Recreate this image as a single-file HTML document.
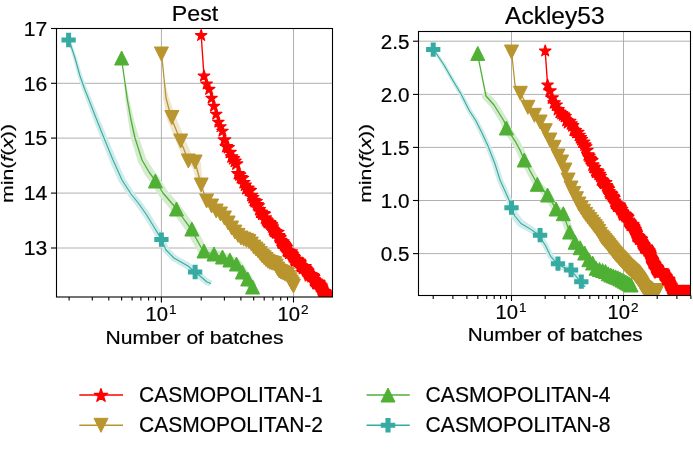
<!DOCTYPE html>
<html><head><meta charset="utf-8"><style>html,body{margin:0;padding:0;background:#fff;}svg{display:block;will-change:transform;}</style></head>
<body><svg width="693" height="450" viewBox="0 0 693 450"><rect x="0" y="0" width="693" height="450" fill="#fff"/><defs><clipPath id="cl"><rect x="56.5" y="28.5" width="276.0" height="268.5"/></clipPath><clipPath id="cr"><rect x="418.5" y="31.5" width="272.0" height="264.0"/></clipPath></defs><line x1="161.4" y1="28.5" x2="161.4" y2="297.0" stroke="#b0b0b0" stroke-width="1"/><line x1="293.5" y1="28.5" x2="293.5" y2="297.0" stroke="#b0b0b0" stroke-width="1"/><line x1="56.5" y1="28.5" x2="332.5" y2="28.5" stroke="#b0b0b0" stroke-width="1"/><line x1="56.5" y1="83.3" x2="332.5" y2="83.3" stroke="#b0b0b0" stroke-width="1"/><line x1="56.5" y1="138.1" x2="332.5" y2="138.1" stroke="#b0b0b0" stroke-width="1"/><line x1="56.5" y1="193.1" x2="332.5" y2="193.1" stroke="#b0b0b0" stroke-width="1"/><line x1="56.5" y1="248.0" x2="332.5" y2="248.0" stroke="#b0b0b0" stroke-width="1"/><line x1="511.5" y1="31.5" x2="511.5" y2="295.5" stroke="#b0b0b0" stroke-width="1"/><line x1="623.5" y1="31.5" x2="623.5" y2="295.5" stroke="#b0b0b0" stroke-width="1"/><line x1="418.5" y1="41.2" x2="690.5" y2="41.2" stroke="#b0b0b0" stroke-width="1"/><line x1="418.5" y1="94.4" x2="690.5" y2="94.4" stroke="#b0b0b0" stroke-width="1"/><line x1="418.5" y1="147.4" x2="690.5" y2="147.4" stroke="#b0b0b0" stroke-width="1"/><line x1="418.5" y1="200.5" x2="690.5" y2="200.5" stroke="#b0b0b0" stroke-width="1"/><line x1="418.5" y1="253.6" x2="690.5" y2="253.6" stroke="#b0b0b0" stroke-width="1"/><g clip-path="url(#cl)"><path d="M67.6 40.5 L73.1 58.6 L77.9 76.7 L82.7 90.9 L86.4 101.0 L93.2 119.1 L101.0 139.2 L109.8 161.4 L118.9 181.7 L128.2 196.0 L136.2 206.1 L143.8 216.9 L151.0 228.8 L158.5 241.2 L163.1 252.0 L171.9 260.8 L186.0 268.9 L192.8 274.7 L197.8 278.7 L205.2 285.0 L209.9 286.3 L212.1 280.7 L208.8 279.0 L202.2 273.3 L197.2 269.3 L190.0 263.1 L176.1 255.2 L168.9 248.0 L164.7 238.0 L157.0 225.2 L149.6 213.1 L141.8 201.9 L133.8 192.0 L125.1 178.3 L116.2 158.6 L107.0 136.8 L98.8 116.9 L91.6 99.0 L87.3 89.1 L82.1 75.3 L76.9 57.4 L70.4 39.5Z" fill="#d0ecea"/><path d="M69.0 40.0 L75.0 58.0 L80.0 76.0 L85.0 90.0 L89.0 100.0 L96.0 118.0 L104.0 138.0 L113.0 160.0 L122.0 180.0 L131.0 194.0 L139.0 204.0 L146.7 215.0 L154.0 227.0 L161.6 239.6 L166.0 250.0 L174.0 258.0 L188.0 266.0 L195.0 272.0 L200.0 276.0 L207.0 282.0 L211.0 283.5" fill="none" stroke="#35aba2" stroke-width="1.1" stroke-linejoin="round"/><path d="M66.10 32.85 L71.10 32.85 L71.10 37.50 L75.75 37.50 L75.75 42.50 L71.10 42.50 L71.10 47.15 L66.10 47.15 L66.10 42.50 L61.45 42.50 L61.45 37.50 L66.10 37.50Z M158.90 232.45 L163.90 232.45 L163.90 237.10 L168.55 237.10 L168.55 242.10 L163.90 242.10 L163.90 246.75 L158.90 246.75 L158.90 242.10 L154.25 242.10 L154.25 237.10 L158.90 237.10Z M192.62 264.85 L197.62 264.85 L197.62 269.50 L202.27 269.50 L202.27 274.50 L197.62 274.50 L197.62 279.15 L192.62 279.15 L192.62 274.50 L187.97 274.50 L187.97 269.50 L192.62 269.50Z" fill="#35aba2"/><path d="M124.0 83.1 L125.4 100.3 L128.1 120.6 L131.1 139.0 L137.9 161.8 L144.8 174.7 L151.5 183.8 L159.0 195.9 L172.7 212.1 L178.9 220.9 L186.8 231.7 L192.6 242.4 L199.9 254.9 L211.5 258.8 L220.2 261.7 L226.9 264.5 L233.7 267.7 L238.2 274.9 L243.6 281.8 L248.8 289.4 L256.4 284.6 L251.8 276.2 L246.4 269.1 L240.3 260.3 L231.1 255.5 L223.8 252.3 L214.5 249.2 L206.1 247.1 L201.4 237.6 L195.2 226.3 L187.1 215.1 L180.7 205.9 L167.0 190.1 L159.7 178.2 L153.2 169.3 L146.1 158.2 L138.9 137.0 L133.9 119.4 L129.4 99.7 L126.0 82.9Z" fill="#d5ebd0"/><path d="M121.4 58.0 L125.0 83.0 L127.4 100.0 L131.0 120.0 L135.0 138.0 L142.0 160.0 L149.0 172.0 L155.6 181.0 L163.0 193.0 L176.7 209.0 L183.0 218.0 L191.0 229.0 L197.0 240.0 L203.0 251.0 L213.0 254.0 L222.0 257.0 L229.0 260.0 L237.0 264.0 L242.3 272.0 L247.7 279.0 L252.6 287.0" fill="none" stroke="#4fb034" stroke-width="1.3" stroke-linejoin="round"/><path d="M121.63 51.00 L114.63 65.00 L128.63 65.00Z M155.36 174.00 L148.36 188.00 L162.36 188.00Z M176.45 202.00 L169.45 216.00 L183.45 216.00Z M191.84 222.00 L184.84 236.00 L198.84 236.00Z M203.97 244.00 L196.97 258.00 L210.97 258.00Z M213.97 247.00 L206.97 261.00 L220.97 261.00Z M222.48 250.00 L215.48 264.00 L229.48 264.00Z M229.90 253.00 L222.90 267.00 L236.90 267.00Z M236.46 257.00 L229.46 271.00 L243.46 271.00Z M242.35 265.00 L235.35 279.00 L249.35 279.00Z M247.69 272.00 L240.69 286.00 L254.69 286.00Z M252.57 280.00 L245.57 294.00 L259.57 294.00Z" fill="#4fb034" stroke="#4fb034" stroke-width="1" stroke-linejoin="miter"/><path d="M163.5 80.1 L163.1 98.6 L167.0 119.4 L176.6 142.7 L184.0 161.0 L192.4 167.6 L198.3 185.4 L202.3 184.6 L201.0 162.4 L192.0 155.0 L185.0 139.3 L175.6 116.6 L168.9 97.4 L164.5 79.9Z" fill="#efe6d0"/><path d="M161.6 54.0 L166.0 98.0 L171.3 118.0 L180.7 141.0 L188.4 161.0 L195.1 162.0 L201.2 185.0 L206.6 201.0 L211.6 206.0 L216.2 211.0 L220.5 214.0 L224.4 218.0 L228.1 223.0 L231.6 228.0 L234.9 232.1 L238.0 235.4 L240.9 238.0 L243.7 239.2 L246.4 240.4 L249.0 241.5 L251.4 244.0 L253.7 247.0 L256.0 249.1 L258.1 251.0 L260.2 253.5 L262.2 256.0 L264.2 257.8 L266.1 259.5 L267.9 261.2 L269.7 262.3 L271.4 262.8 L273.0 263.3 L274.7 263.8 L276.2 266.0 L277.8 269.0 L279.2 271.0 L280.7 271.7 L282.1 272.4 L283.5 273.1 L284.8 273.7 L286.2 274.4 L287.5 275.0 L288.7 277.4 L290.0 279.8 L291.2 282.0 L292.3 284.0 L293.5 286.0" fill="none" stroke="#b9952f" stroke-width="1.3" stroke-linejoin="round"/><path d="M161.40 61.00 L154.40 47.00 L168.40 47.00Z M171.86 124.50 L164.86 110.50 L178.86 110.50Z M180.70 148.00 L173.70 134.00 L187.70 134.00Z M188.36 168.00 L181.36 154.00 L195.36 154.00Z M195.12 169.00 L188.12 155.00 L202.12 155.00Z M201.17 192.00 L194.17 178.00 L208.17 178.00Z M206.63 208.00 L199.63 194.00 L213.63 194.00Z M211.63 213.00 L204.63 199.00 L218.63 199.00Z M216.22 218.00 L209.22 204.00 L223.22 204.00Z M220.47 221.00 L213.47 207.00 L227.47 207.00Z M224.43 225.00 L217.43 211.00 L231.43 211.00Z M228.13 230.00 L221.13 216.00 L235.13 216.00Z M231.61 235.00 L224.61 221.00 L238.61 221.00Z M234.89 239.06 L227.89 225.06 L241.89 225.06Z M237.99 242.37 L230.99 228.37 L244.99 228.37Z M240.93 245.00 L233.93 231.00 L247.93 231.00Z M243.73 246.21 L236.73 232.21 L250.73 232.21Z M246.40 247.36 L239.40 233.36 L253.40 233.36Z M248.95 248.47 L241.95 234.47 L255.95 234.47Z M251.39 251.02 L244.39 237.02 L258.39 237.02Z M253.73 254.04 L246.73 240.04 L260.73 240.04Z M255.98 256.06 L248.98 242.06 L262.98 242.06Z M258.15 258.00 L251.15 244.00 L265.15 244.00Z M260.24 260.54 L253.24 246.54 L267.24 246.54Z M262.25 263.00 L255.25 249.00 L269.25 249.00Z M264.19 264.79 L257.19 250.79 L271.19 250.79Z M266.07 266.51 L259.07 252.51 L273.07 252.51Z M267.90 268.18 L260.90 254.18 L274.90 254.18Z M269.66 269.26 L262.66 255.26 L276.66 255.26Z M271.37 269.78 L264.37 255.78 L278.37 255.78Z M273.04 270.28 L266.04 256.28 L280.04 256.28Z M274.65 270.76 L267.65 256.76 L281.65 256.76Z M276.23 273.01 L269.23 259.01 L283.23 259.01Z M277.76 276.01 L270.76 262.01 L284.76 262.01Z M279.25 278.00 L272.25 264.00 L286.25 264.00Z M280.70 278.71 L273.70 264.71 L287.70 264.71Z M282.11 279.40 L275.11 265.40 L289.11 265.40Z M283.50 280.07 L276.50 266.07 L290.50 266.07Z M284.85 280.73 L277.85 266.73 L291.85 266.73Z M286.17 281.37 L279.17 267.37 L293.17 267.37Z M287.46 282.00 L280.46 268.00 L294.46 268.00Z M288.72 284.44 L281.72 270.44 L295.72 270.44Z M289.95 286.83 L282.95 272.83 L296.95 272.83Z M291.16 289.02 L284.16 275.02 L298.16 275.02Z M292.34 291.03 L285.34 277.03 L299.34 277.03Z M293.50 293.00 L286.50 279.00 L300.50 279.00Z" fill="#b9952f" stroke="#b9952f" stroke-width="1" stroke-linejoin="miter"/><path d="M201.2 35.5 L204.0 76.0 L206.6 84.0 L209.2 89.3 L211.6 98.2 L214.0 106.2 L216.2 114.2 L218.4 122.2 L220.5 126.7 L222.5 131.1 L224.4 140.0 L226.3 146.6 L228.1 147.6 L229.9 152.4 L231.6 156.9 L233.3 158.7 L234.9 161.2 L236.5 163.9 L238.0 173.7 L239.5 175.0 L240.9 177.7 L242.3 178.4 L243.7 182.6 L245.1 185.1 L246.4 188.5 L247.7 188.2 L249.0 190.2 L250.2 190.7 L251.4 195.4 L252.6 197.6 L253.7 200.4 L254.9 201.5 L256.0 201.7 L257.1 204.6 L258.1 205.9 L259.2 209.6 L260.2 212.1 L261.3 212.3 L262.2 214.1 L263.2 213.6 L264.2 214.2 L265.1 218.0 L266.1 219.8 L267.0 220.9 L267.9 222.4 L268.8 222.4 L269.7 222.8 L270.5 224.1 L271.4 225.0 L272.2 226.9 L273.0 229.4 L273.9 230.7 L274.7 231.3 L275.4 231.6 L276.2 232.8 L277.0 232.7 L277.8 232.4 L278.5 235.7 L279.2 237.1 L280.0 237.9 L280.7 240.4 L281.4 241.8 L282.1 243.1 L282.8 241.9 L283.5 243.3 L284.2 244.8 L284.8 245.6 L285.5 246.4 L286.2 247.6 L286.8 250.6 L287.5 251.0 L288.1 251.6 L288.7 251.2 L289.3 253.1 L290.0 252.7 L290.6 252.9 L291.2 251.8 L291.8 253.8 L292.3 254.9 L292.9 256.5 L293.5 256.5 L294.1 257.6 L294.6 259.3 L295.2 260.3 L295.8 260.8 L296.3 259.3 L296.8 260.0 L297.4 259.8 L297.9 261.5 L298.4 261.0 L299.0 261.1 L299.5 262.0 L300.0 262.9 L300.5 265.6 L301.0 265.7 L301.5 266.4 L302.0 266.4 L302.5 266.5 L303.0 268.3 L303.5 267.9 L304.0 268.0 L304.4 267.4 L304.9 266.6 L305.4 268.3 L305.8 269.0 L306.3 270.0 L306.8 271.0 L307.2 270.4 L307.7 271.8 L308.1 273.2 L308.6 273.9 L309.0 275.6 L309.4 275.3 L309.9 274.3 L310.3 274.9 L310.7 274.7 L311.1 275.1 L311.6 276.5 L312.0 276.0 L312.4 275.5 L312.8 276.3 L313.2 276.3 L313.6 277.4 L314.0 279.7 L314.4 280.3 L314.8 280.5 L315.2 281.5 L315.6 281.2 L316.0 281.3 L316.4 282.9 L316.8 283.5 L317.1 283.2 L317.5 283.6 L317.9 283.3 L318.3 282.0 L318.6 282.5 L319.0 283.8 L319.4 284.2 L319.7 284.9 L320.1 286.3 L320.5 286.4 L320.8 286.0 L321.2 287.1 L321.5 288.5 L321.9 289.1 L322.2 290.3 L322.6 291.9 L322.9 292.1 L323.3 291.3 L323.6 291.5 L323.9 292.0 L324.3 291.7 L324.6 292.0 L324.9 293.3 L325.3 293.8 L325.6 293.2 L325.9 293.0 L326.3 293.3 L326.6 293.2 L326.9 292.9 L327.2 293.9 L327.5 295.6 L327.9 296.3 L328.2 296.3 L328.5 296.9 L328.8 297.6 L329.1 297.3 L329.4 296.9 L329.7 297.7 L330.0 299.0 L330.3 299.3 L330.6 299.1 L330.9 299.4 L331.2 299.6 L331.5 298.9 L331.8 297.8 L332.1 297.6 L332.4 298.3 L332.7 298.7 L333.0 298.6 L333.3 299.0" fill="none" stroke="#ff0000" stroke-width="1.4" stroke-linejoin="round"/><path d="M201.17 29.50 L199.82 33.65 L195.46 33.65 L198.99 36.21 L197.64 40.35 L201.17 37.79 L204.69 40.35 L203.35 36.21 L206.87 33.65 L202.51 33.65Z M203.97 70.00 L202.62 74.15 L198.26 74.15 L201.79 76.71 L200.44 80.85 L203.97 78.29 L207.49 80.85 L206.14 76.71 L209.67 74.15 L205.31 74.15Z M206.63 78.00 L205.29 82.15 L200.93 82.15 L204.45 84.71 L203.11 88.85 L206.63 86.29 L210.16 88.85 L208.81 84.71 L212.34 82.15 L207.98 82.15Z M209.18 83.30 L207.84 87.45 L203.48 87.45 L207.00 90.01 L205.66 94.15 L209.18 91.59 L212.71 94.15 L211.36 90.01 L214.89 87.45 L210.53 87.45Z M211.63 92.20 L210.28 96.35 L205.92 96.35 L209.45 98.91 L208.10 103.05 L211.63 100.49 L215.15 103.05 L213.81 98.91 L217.33 96.35 L212.97 96.35Z M213.97 100.20 L212.62 104.35 L208.26 104.35 L211.79 106.91 L210.44 111.05 L213.97 108.49 L217.49 111.05 L216.15 106.91 L219.67 104.35 L215.31 104.35Z M216.22 108.20 L214.87 112.35 L210.51 112.35 L214.04 114.91 L212.69 119.05 L216.22 116.49 L219.74 119.05 L218.40 114.91 L221.92 112.35 L217.57 112.35Z M218.38 116.20 L217.04 120.35 L212.68 120.35 L216.20 122.91 L214.86 127.05 L218.38 124.49 L221.91 127.05 L220.56 122.91 L224.09 120.35 L219.73 120.35Z M220.47 120.73 L219.12 124.88 L214.76 124.88 L218.29 127.44 L216.94 131.58 L220.47 129.02 L224.00 131.58 L222.65 127.44 L226.18 124.88 L221.82 124.88Z M222.48 125.10 L221.14 129.25 L216.78 129.25 L220.30 131.81 L218.96 135.95 L222.48 133.39 L226.01 135.95 L224.66 131.81 L228.19 129.25 L223.83 129.25Z" fill="#ff0000" stroke="#ff0000" stroke-width="1.2" stroke-linejoin="round"/><path d="M224.43 133.40 L222.95 137.96 L218.15 137.96 L222.03 140.78 L220.55 145.34 L224.43 142.52 L228.31 145.34 L226.83 140.78 L230.70 137.96 L225.91 137.96Z M226.31 140.04 L224.83 144.60 L220.03 144.60 L223.91 147.42 L222.43 151.98 L226.31 149.16 L230.19 151.98 L228.71 147.42 L232.59 144.60 L227.79 144.60Z M228.13 141.03 L226.65 145.59 L221.85 145.59 L225.73 148.41 L224.25 152.97 L228.13 150.15 L232.01 152.97 L230.53 148.41 L234.41 145.59 L229.61 145.59Z M229.90 145.83 L228.41 150.40 L223.62 150.40 L227.50 153.21 L226.02 157.77 L229.90 154.96 L233.78 157.77 L232.29 153.21 L236.17 150.40 L231.38 150.40Z M231.61 150.28 L230.13 154.84 L225.33 154.84 L229.21 157.66 L227.73 162.22 L231.61 159.40 L235.49 162.22 L234.01 157.66 L237.89 154.84 L233.09 154.84Z M233.27 152.09 L231.79 156.65 L226.99 156.65 L230.87 159.47 L229.39 164.03 L233.27 161.21 L237.15 164.03 L235.67 159.47 L239.55 156.65 L234.75 156.65Z M234.89 154.62 L233.41 159.18 L228.61 159.18 L232.49 161.99 L231.01 166.55 L234.89 163.74 L238.77 166.55 L237.29 161.99 L241.16 159.18 L236.37 159.18Z M236.46 157.34 L234.98 161.90 L230.18 161.90 L234.06 164.72 L232.58 169.28 L236.46 166.46 L240.34 169.28 L238.86 164.72 L242.74 161.90 L237.94 161.90Z M237.99 167.07 L236.51 171.63 L231.71 171.63 L235.59 174.45 L234.11 179.01 L237.99 176.19 L241.87 179.01 L240.39 174.45 L244.27 171.63 L239.47 171.63Z M239.48 168.36 L238.00 172.92 L233.20 172.92 L237.08 175.74 L235.60 180.30 L239.48 177.48 L243.36 180.30 L241.88 175.74 L245.76 172.92 L240.96 172.92Z M240.93 171.05 L239.45 175.61 L234.66 175.61 L238.53 178.43 L237.05 182.99 L240.93 180.17 L244.81 182.99 L243.33 178.43 L247.21 175.61 L242.41 175.61Z M242.35 171.79 L240.87 176.35 L236.07 176.35 L239.95 179.17 L238.47 183.73 L242.35 180.91 L246.23 183.73 L244.75 179.17 L248.63 176.35 L243.83 176.35Z M243.73 175.98 L242.25 180.54 L237.45 180.54 L241.33 183.36 L239.85 187.92 L243.73 185.10 L247.61 187.92 L246.13 183.36 L250.01 180.54 L245.21 180.54Z M245.08 178.47 L243.60 183.03 L238.80 183.03 L242.68 185.85 L241.20 190.41 L245.08 187.59 L248.96 190.41 L247.48 185.85 L251.36 183.03 L246.56 183.03Z M246.40 181.93 L244.92 186.49 L240.12 186.49 L244.00 189.31 L242.52 193.87 L246.40 191.05 L250.28 193.87 L248.80 189.31 L252.68 186.49 L247.88 186.49Z M247.69 181.61 L246.21 186.17 L241.41 186.17 L245.29 188.99 L243.81 193.55 L247.69 190.73 L251.57 193.55 L250.09 188.99 L253.97 186.17 L249.17 186.17Z M248.95 183.64 L247.47 188.20 L242.67 188.20 L246.55 191.02 L245.07 195.58 L248.95 192.76 L252.83 195.58 L251.35 191.02 L255.23 188.20 L250.43 188.20Z M250.18 184.07 L248.70 188.63 L243.91 188.63 L247.79 191.45 L246.30 196.01 L250.18 193.19 L254.06 196.01 L252.58 191.45 L256.46 188.63 L251.67 188.63Z M251.39 188.82 L249.91 193.38 L245.11 193.38 L248.99 196.20 L247.51 200.76 L251.39 197.94 L255.27 200.76 L253.79 196.20 L257.67 193.38 L252.87 193.38Z M252.57 190.99 L251.09 195.55 L246.30 195.55 L250.18 198.37 L248.70 202.93 L252.57 200.11 L256.45 202.93 L254.97 198.37 L258.85 195.55 L254.06 195.55Z M253.73 193.79 L252.25 198.35 L247.46 198.35 L251.34 201.17 L249.85 205.73 L253.73 202.91 L257.61 205.73 L256.13 201.17 L260.01 198.35 L255.22 198.35Z M254.87 194.87 L253.39 199.43 L248.59 199.43 L252.47 202.25 L250.99 206.81 L254.87 203.99 L258.75 206.81 L257.27 202.25 L261.15 199.43 L256.35 199.43Z M255.98 195.07 L254.50 199.63 L249.71 199.63 L253.59 202.45 L252.10 207.01 L255.98 204.19 L259.86 207.01 L258.38 202.45 L262.26 199.63 L257.47 199.63Z M257.08 198.03 L255.60 202.59 L250.80 202.59 L254.68 205.41 L253.20 209.97 L257.08 207.15 L260.96 209.97 L259.47 205.41 L263.35 202.59 L258.56 202.59Z M258.15 199.30 L256.67 203.86 L251.87 203.86 L255.75 206.68 L254.27 211.24 L258.15 208.42 L262.03 211.24 L260.55 206.68 L264.43 203.86 L259.63 203.86Z M259.20 203.01 L257.72 207.57 L252.92 207.57 L256.80 210.39 L255.32 214.95 L259.20 212.13 L263.08 214.95 L261.60 210.39 L265.48 207.57 L260.68 207.57Z M260.24 205.50 L258.75 210.06 L253.96 210.06 L257.84 212.88 L256.36 217.44 L260.24 214.62 L264.12 217.44 L262.63 212.88 L266.51 210.06 L261.72 210.06Z M261.25 205.74 L259.77 210.30 L254.97 210.30 L258.85 213.12 L257.37 217.68 L261.25 214.86 L265.13 217.68 L263.65 213.12 L267.53 210.30 L262.73 210.30Z M262.25 207.47 L260.77 212.03 L255.97 212.03 L259.85 214.85 L258.37 219.41 L262.25 216.59 L266.13 219.41 L264.65 214.85 L268.53 212.03 L263.73 212.03Z M263.23 206.98 L261.75 211.54 L256.95 211.54 L260.83 214.36 L259.35 218.92 L263.23 216.10 L267.11 218.92 L265.63 214.36 L269.51 211.54 L264.71 211.54Z M264.19 207.59 L262.71 212.15 L257.92 212.15 L261.80 214.97 L260.31 219.53 L264.19 216.72 L268.07 219.53 L266.59 214.97 L270.47 212.15 L265.68 212.15Z M265.14 211.37 L263.66 215.93 L258.87 215.93 L262.74 218.75 L261.26 223.31 L265.14 220.49 L269.02 223.31 L267.54 218.75 L271.42 215.93 L266.62 215.93Z M266.07 213.20 L264.59 217.76 L259.80 217.76 L263.68 220.58 L262.20 225.14 L266.07 222.32 L269.95 225.14 L268.47 220.58 L272.35 217.76 L267.56 217.76Z M266.99 214.34 L265.51 218.90 L260.72 218.90 L264.60 221.72 L263.11 226.28 L266.99 223.46 L270.87 226.28 L269.39 221.72 L273.27 218.90 L268.47 218.90Z M267.90 215.83 L266.41 220.39 L261.62 220.39 L265.50 223.21 L264.02 227.77 L267.90 224.95 L271.78 227.77 L270.29 223.21 L274.17 220.39 L269.38 220.39Z M268.79 215.77 L267.30 220.33 L262.51 220.33 L266.39 223.15 L264.91 227.71 L268.79 224.89 L272.67 227.71 L271.18 223.15 L275.06 220.33 L270.27 220.33Z M269.66 216.25 L268.18 220.81 L263.38 220.81 L267.26 223.63 L265.78 228.19 L269.66 225.37 L273.54 228.19 L272.06 223.63 L275.94 220.81 L271.14 220.81Z M270.52 217.52 L269.04 222.08 L264.25 222.08 L268.13 224.90 L266.65 229.46 L270.52 226.64 L274.40 229.46 L272.92 224.90 L276.80 222.08 L272.01 222.08Z M271.37 218.37 L269.89 222.93 L265.10 222.93 L268.98 225.75 L267.50 230.31 L271.37 227.49 L275.25 230.31 L273.77 225.75 L277.65 222.93 L272.86 222.93Z M272.21 220.34 L270.73 224.90 L265.93 224.90 L269.81 227.72 L268.33 232.28 L272.21 229.47 L276.09 232.28 L274.61 227.72 L278.49 224.90 L273.69 224.90Z M273.04 222.76 L271.56 227.32 L266.76 227.32 L270.64 230.14 L269.16 234.70 L273.04 231.88 L276.92 234.70 L275.44 230.14 L279.31 227.32 L274.52 227.32Z M273.85 224.13 L272.37 228.69 L267.57 228.69 L271.45 231.51 L269.97 236.07 L273.85 233.25 L277.73 236.07 L276.25 231.51 L280.13 228.69 L275.33 228.69Z M274.65 224.71 L273.17 229.27 L268.38 229.27 L272.26 232.09 L270.77 236.65 L274.65 233.83 L278.53 236.65 L277.05 232.09 L280.93 229.27 L276.14 229.27Z M275.44 224.96 L273.96 229.52 L269.17 229.52 L273.05 232.34 L271.57 236.90 L275.44 234.08 L279.32 236.90 L277.84 232.34 L281.72 229.52 L276.93 229.52Z M276.23 226.17 L274.74 230.73 L269.95 230.73 L273.83 233.55 L272.35 238.11 L276.23 235.29 L280.10 238.11 L278.62 233.55 L282.50 230.73 L277.71 230.73Z M277.00 226.14 L275.51 230.70 L270.72 230.70 L274.60 233.52 L273.12 238.08 L277.00 235.26 L280.87 238.08 L279.39 233.52 L283.27 230.70 L278.48 230.70Z M277.76 225.82 L276.27 230.38 L271.48 230.38 L275.36 233.20 L273.88 237.76 L277.76 234.94 L281.63 237.76 L280.15 233.20 L284.03 230.38 L279.24 230.38Z M278.51 229.14 L277.02 233.70 L272.23 233.70 L276.11 236.52 L274.63 241.08 L278.51 238.26 L282.38 241.08 L280.90 236.52 L284.78 233.70 L279.99 233.70Z M279.25 230.53 L277.76 235.09 L272.97 235.09 L276.85 237.91 L275.37 242.47 L279.25 239.65 L283.13 242.47 L281.64 237.91 L285.52 235.09 L280.73 235.09Z M279.98 231.32 L278.49 235.88 L273.70 235.88 L277.58 238.70 L276.10 243.26 L279.98 240.44 L283.86 243.26 L282.37 238.70 L286.25 235.88 L281.46 235.88Z M280.70 233.81 L279.22 238.37 L274.42 238.37 L278.30 241.19 L276.82 245.75 L280.70 242.93 L284.58 245.75 L283.10 241.19 L286.98 238.37 L282.18 238.37Z M281.41 235.16 L279.93 239.72 L275.13 239.72 L279.01 242.54 L277.53 247.10 L281.41 244.28 L285.29 247.10 L283.81 242.54 L287.69 239.72 L282.89 239.72Z M282.11 236.51 L280.63 241.08 L275.84 241.08 L279.72 243.89 L278.24 248.45 L282.11 245.64 L285.99 248.45 L284.51 243.89 L288.39 241.08 L283.60 241.08Z M282.81 235.25 L281.33 239.81 L276.53 239.81 L280.41 242.63 L278.93 247.19 L282.81 244.37 L286.69 247.19 L285.21 242.63 L289.09 239.81 L284.29 239.81Z M283.50 236.69 L282.02 241.25 L277.22 241.25 L281.10 244.07 L279.62 248.63 L283.50 245.81 L287.38 248.63 L285.89 244.07 L289.77 241.25 L284.98 241.25Z M284.18 238.16 L282.69 242.72 L277.90 242.72 L281.78 245.54 L280.30 250.10 L284.18 247.29 L288.06 250.10 L286.57 245.54 L290.45 242.72 L285.66 242.72Z M284.85 238.98 L283.37 243.54 L278.57 243.54 L282.45 246.36 L280.97 250.92 L284.85 248.10 L288.73 250.92 L287.24 246.36 L291.12 243.54 L286.33 243.54Z M285.51 239.76 L284.03 244.32 L279.23 244.32 L283.11 247.14 L281.63 251.70 L285.51 248.88 L289.39 251.70 L287.91 247.14 L291.79 244.32 L286.99 244.32Z M286.17 240.97 L284.68 245.53 L279.89 245.53 L283.77 248.35 L282.29 252.91 L286.17 250.09 L290.05 252.91 L288.56 248.35 L292.44 245.53 L287.65 245.53Z M286.81 243.96 L285.33 248.52 L280.54 248.52 L284.42 251.34 L282.94 255.90 L286.81 253.08 L290.69 255.90 L289.21 251.34 L293.09 248.52 L288.30 248.52Z M287.46 244.36 L285.97 248.92 L281.18 248.92 L285.06 251.74 L283.58 256.30 L287.46 253.48 L291.33 256.30 L289.85 251.74 L293.73 248.92 L288.94 248.92Z M288.09 245.04 L286.61 249.60 L281.81 249.60 L285.69 252.42 L284.21 256.98 L288.09 254.16 L291.97 256.98 L290.49 252.42 L294.37 249.60 L289.57 249.60Z M288.72 244.59 L287.23 249.15 L282.44 249.15 L286.32 251.97 L284.84 256.53 L288.72 253.71 L292.60 256.53 L291.11 251.97 L294.99 249.15 L290.20 249.15Z M289.34 246.52 L287.85 251.08 L283.06 251.08 L286.94 253.90 L285.46 258.46 L289.34 255.64 L293.22 258.46 L291.73 253.90 L295.61 251.08 L290.82 251.08Z M289.95 246.11 L288.47 250.67 L283.67 250.67 L287.55 253.49 L286.07 258.05 L289.95 255.23 L293.83 258.05 L292.35 253.49 L296.23 250.67 L291.43 250.67Z M290.56 246.29 L289.08 250.85 L284.28 250.85 L288.16 253.67 L286.68 258.23 L290.56 255.41 L294.44 258.23 L292.95 253.67 L296.83 250.85 L292.04 250.85Z M291.16 245.23 L289.68 249.79 L284.88 249.79 L288.76 252.61 L287.28 257.17 L291.16 254.35 L295.04 257.17 L293.56 252.61 L297.44 249.79 L292.64 249.79Z M291.75 247.17 L290.27 251.73 L285.48 251.73 L289.35 254.55 L287.87 259.11 L291.75 256.29 L295.63 259.11 L294.15 254.55 L298.03 251.73 L293.23 251.73Z M292.34 248.34 L290.86 252.90 L286.06 252.90 L289.94 255.72 L288.46 260.28 L292.34 257.46 L296.22 260.28 L294.74 255.72 L298.62 252.90 L293.82 252.90Z M292.92 249.93 L291.44 254.49 L286.65 254.49 L290.53 257.31 L289.04 261.87 L292.92 259.05 L296.80 261.87 L295.32 257.31 L299.20 254.49 L294.41 254.49Z M293.50 249.95 L292.02 254.51 L287.22 254.51 L291.10 257.33 L289.62 261.89 L293.50 259.07 L297.38 261.89 L295.90 257.33 L299.78 254.51 L294.98 254.51Z M294.07 251.02 L292.59 255.58 L287.79 255.58 L291.67 258.40 L290.19 262.96 L294.07 260.14 L297.95 262.96 L296.47 258.40 L300.35 255.58 L295.55 255.58Z M294.64 252.71 L293.15 257.27 L288.36 257.27 L292.24 260.09 L290.76 264.65 L294.64 261.83 L298.52 264.65 L297.03 260.09 L300.91 257.27 L296.12 257.27Z M295.20 253.67 L293.71 258.23 L288.92 258.23 L292.80 261.05 L291.32 265.61 L295.20 262.79 L299.08 265.61 L297.59 261.05 L301.47 258.23 L296.68 258.23Z M295.75 254.18 L294.27 258.74 L289.47 258.74 L293.35 261.56 L291.87 266.12 L295.75 263.30 L299.63 266.12 L298.15 261.56 L302.03 258.74 L297.23 258.74Z M296.30 252.67 L294.82 257.23 L290.02 257.23 L293.90 260.05 L292.42 264.61 L296.30 261.79 L300.18 264.61 L298.70 260.05 L302.58 257.23 L297.78 257.23Z M296.84 253.42 L295.36 257.98 L290.57 257.98 L294.45 260.80 L292.96 265.36 L296.84 262.54 L300.72 265.36 L299.24 260.80 L303.12 257.98 L298.32 257.98Z M297.38 253.24 L295.90 257.80 L291.10 257.80 L294.98 260.62 L293.50 265.18 L297.38 262.36 L301.26 265.18 L299.78 260.62 L303.66 257.80 L298.86 257.80Z M297.92 254.86 L296.43 259.42 L291.64 259.42 L295.52 262.24 L294.04 266.80 L297.92 263.98 L301.79 266.80 L300.31 262.24 L304.19 259.42 L299.40 259.42Z M298.44 254.44 L296.96 259.00 L292.17 259.00 L296.05 261.82 L294.56 266.38 L298.44 263.56 L302.32 266.38 L300.84 261.82 L304.72 259.00 L299.93 259.00Z M298.97 254.45 L297.49 259.01 L292.69 259.01 L296.57 261.83 L295.09 266.39 L298.97 263.57 L302.85 266.39 L301.37 261.83 L305.24 259.01 L300.45 259.01Z M299.49 255.37 L298.01 259.93 L293.21 259.93 L297.09 262.75 L295.61 267.31 L299.49 264.49 L303.37 267.31 L301.88 262.75 L305.76 259.93 L300.97 259.93Z M300.00 256.33 L298.52 260.89 L293.72 260.89 L297.60 263.70 L296.12 268.27 L300.00 265.45 L303.88 268.27 L302.40 263.70 L306.28 260.89 L301.48 260.89Z M300.51 259.03 L299.03 263.59 L294.23 263.59 L298.11 266.41 L296.63 270.97 L300.51 268.15 L304.39 270.97 L302.91 266.41 L306.79 263.59 L301.99 263.59Z M301.02 259.14 L299.54 263.70 L294.74 263.70 L298.62 266.52 L297.14 271.08 L301.02 268.26 L304.90 271.08 L303.41 266.52 L307.29 263.70 L302.50 263.70Z M301.52 259.80 L300.04 264.36 L295.24 264.36 L299.12 267.18 L297.64 271.74 L301.52 268.92 L305.40 271.74 L303.92 267.18 L307.80 264.36 L303.00 264.36Z M302.01 259.80 L300.53 264.36 L295.74 264.36 L299.62 267.18 L298.14 271.74 L302.01 268.92 L305.89 271.74 L304.41 267.18 L308.29 264.36 L303.50 264.36Z M302.51 259.94 L301.03 264.50 L296.23 264.50 L300.11 267.32 L298.63 271.88 L302.51 269.06 L306.39 271.88 L304.90 267.32 L308.78 264.50 L303.99 264.50Z M303.00 261.71 L301.51 266.28 L296.72 266.28 L300.60 269.09 L299.12 273.65 L303.00 270.84 L306.87 273.65 L305.39 269.09 L309.27 266.28 L304.48 266.28Z M303.48 261.28 L302.00 265.84 L297.20 265.84 L301.08 268.66 L299.60 273.22 L303.48 270.40 L307.36 273.22 L305.88 268.66 L309.76 265.84 L304.96 265.84Z M303.96 261.38 L302.48 265.95 L297.68 265.95 L301.56 268.76 L300.08 273.32 L303.96 270.51 L307.84 273.32 L306.36 268.76 L310.24 265.95 L305.44 265.95Z M304.44 260.78 L302.95 265.34 L298.16 265.34 L302.04 268.16 L300.56 272.72 L304.44 269.90 L308.32 272.72 L306.83 268.16 L310.71 265.34 L305.92 265.34Z M304.91 260.00 L303.43 264.56 L298.63 264.56 L302.51 267.38 L301.03 271.94 L304.91 269.12 L308.79 271.94 L307.31 267.38 L311.19 264.56 L306.39 264.56Z M305.38 261.73 L303.89 266.29 L299.10 266.29 L302.98 269.10 L301.50 273.66 L305.38 270.85 L309.26 273.66 L307.77 269.10 L311.65 266.29 L306.86 266.29Z M305.84 262.37 L304.36 266.93 L299.56 266.93 L303.44 269.75 L301.96 274.31 L305.84 271.49 L309.72 274.31 L308.24 269.75 L312.12 266.93 L307.32 266.93Z M306.30 263.38 L304.82 267.94 L300.02 267.94 L303.90 270.76 L302.42 275.32 L306.30 272.50 L310.18 275.32 L308.70 270.76 L312.58 267.94 L307.78 267.94Z M306.76 264.44 L305.28 269.00 L300.48 269.00 L304.36 271.82 L302.88 276.38 L306.76 273.56 L310.64 276.38 L309.16 271.82 L313.04 269.00 L308.24 269.00Z M307.21 263.84 L305.73 268.40 L300.94 268.40 L304.81 271.22 L303.33 275.78 L307.21 272.96 L311.09 275.78 L309.61 271.22 L313.49 268.40 L308.69 268.40Z M307.66 265.16 L306.18 269.72 L301.39 269.72 L305.26 272.54 L303.78 277.10 L307.66 274.28 L311.54 277.10 L310.06 272.54 L313.94 269.72 L309.14 269.72Z M308.11 266.63 L306.63 271.19 L301.83 271.19 L305.71 274.01 L304.23 278.57 L308.11 275.75 L311.99 278.57 L310.51 274.01 L314.39 271.19 L309.59 271.19Z M308.55 267.32 L307.07 271.88 L302.27 271.88 L306.15 274.70 L304.67 279.26 L308.55 276.44 L312.43 279.26 L310.95 274.70 L314.83 271.88 L310.03 271.88Z M308.99 268.96 L307.51 273.52 L302.71 273.52 L306.59 276.34 L305.11 280.90 L308.99 278.08 L312.87 280.90 L311.39 276.34 L315.27 273.52 L310.47 273.52Z M309.43 268.66 L307.95 273.22 L303.15 273.22 L307.03 276.04 L305.55 280.60 L309.43 277.78 L313.31 280.60 L311.83 276.04 L315.70 273.22 L310.91 273.22Z M309.86 267.69 L308.38 272.25 L303.58 272.25 L307.46 275.07 L305.98 279.63 L309.86 276.81 L313.74 279.63 L312.26 275.07 L316.14 272.25 L311.34 272.25Z M310.29 268.28 L308.81 272.84 L304.01 272.84 L307.89 275.66 L306.41 280.22 L310.29 277.40 L314.17 280.22 L312.69 275.66 L316.57 272.84 L311.77 272.84Z M310.72 268.09 L309.24 272.65 L304.44 272.65 L308.32 275.47 L306.84 280.03 L310.72 277.21 L314.60 280.03 L313.11 275.47 L316.99 272.65 L312.20 272.65Z M311.14 268.51 L309.66 273.07 L304.86 273.07 L308.74 275.89 L307.26 280.45 L311.14 277.63 L315.02 280.45 L313.54 275.89 L317.42 273.07 L312.62 273.07Z M311.56 269.88 L310.08 274.44 L305.28 274.44 L309.16 277.26 L307.68 281.82 L311.56 279.00 L315.44 281.82 L313.96 277.26 L317.84 274.44 L313.04 274.44Z M311.98 269.36 L310.50 273.92 L305.70 273.92 L309.58 276.74 L308.10 281.30 L311.98 278.48 L315.86 281.30 L314.38 276.74 L318.26 273.92 L313.46 273.92Z M312.39 268.94 L310.91 273.50 L306.12 273.50 L309.99 276.32 L308.51 280.88 L312.39 278.06 L316.27 280.88 L314.79 276.32 L318.67 273.50 L313.87 273.50Z M312.80 269.71 L311.32 274.27 L306.53 274.27 L310.41 277.09 L308.92 281.65 L312.80 278.83 L316.68 281.65 L315.20 277.09 L319.08 274.27 L314.29 274.27Z M313.21 269.72 L311.73 274.28 L306.93 274.28 L310.81 277.10 L309.33 281.66 L313.21 278.84 L317.09 281.66 L315.61 277.10 L319.49 274.28 L314.69 274.28Z M313.62 270.82 L312.14 275.38 L307.34 275.38 L311.22 278.20 L309.74 282.76 L313.62 279.94 L317.50 282.76 L316.01 278.20 L319.89 275.38 L315.10 275.38Z M314.02 273.10 L312.54 277.66 L307.74 277.66 L311.62 280.48 L310.14 285.04 L314.02 282.22 L317.90 285.04 L316.42 280.48 L320.30 277.66 L315.50 277.66Z M314.42 273.70 L312.94 278.26 L308.14 278.26 L312.02 281.08 L310.54 285.64 L314.42 282.82 L318.30 285.64 L316.82 281.08 L320.70 278.26 L315.90 278.26Z M314.82 273.94 L313.33 278.50 L308.54 278.50 L312.42 281.32 L310.94 285.88 L314.82 283.06 L318.70 285.88 L317.21 281.32 L321.09 278.50 L316.30 278.50Z M315.21 274.87 L313.73 279.43 L308.93 279.43 L312.81 282.25 L311.33 286.81 L315.21 283.99 L319.09 286.81 L317.61 282.25 L321.49 279.43 L316.69 279.43Z M315.60 274.63 L314.12 279.19 L309.33 279.19 L313.21 282.01 L311.72 286.57 L315.60 283.75 L319.48 286.57 L318.00 282.01 L321.88 279.19 L317.08 279.19Z M315.99 274.66 L314.51 279.22 L309.71 279.22 L313.59 282.04 L312.11 286.60 L315.99 283.78 L319.87 286.60 L318.39 282.04 L322.27 279.22 L317.47 279.22Z M316.38 276.27 L314.90 280.83 L310.10 280.83 L313.98 283.65 L312.50 288.21 L316.38 285.39 L320.26 288.21 L318.78 283.65 L322.65 280.83 L317.86 280.83Z M316.76 276.94 L315.28 281.50 L310.48 281.50 L314.36 284.32 L312.88 288.88 L316.76 286.06 L320.64 288.88 L319.16 284.32 L323.04 281.50 L318.24 281.50Z M317.14 276.61 L315.66 281.17 L310.87 281.17 L314.75 283.99 L313.26 288.55 L317.14 285.73 L321.02 288.55 L319.54 283.99 L323.42 281.17 L318.62 281.17Z M317.52 277.00 L316.04 281.56 L311.24 281.56 L315.12 284.38 L313.64 288.94 L317.52 286.12 L321.40 288.94 L319.92 284.38 L323.80 281.56 L319.00 281.56Z M317.90 276.68 L316.42 281.24 L311.62 281.24 L315.50 284.05 L314.02 288.61 L317.90 285.80 L321.78 288.61 L320.30 284.05 L324.17 281.24 L319.38 281.24Z M318.27 275.45 L316.79 280.01 L311.99 280.01 L315.87 282.82 L314.39 287.39 L318.27 284.57 L322.15 287.39 L320.67 282.82 L324.55 280.01 L319.75 280.01Z M318.64 275.87 L317.16 280.43 L312.37 280.43 L316.25 283.25 L314.76 287.81 L318.64 284.99 L322.52 287.81 L321.04 283.25 L324.92 280.43 L320.12 280.43Z M319.01 277.19 L317.53 281.75 L312.73 281.75 L316.61 284.57 L315.13 289.13 L319.01 286.31 L322.89 289.13 L321.41 284.57 L325.29 281.75 L320.49 281.75Z M319.38 277.58 L317.90 282.14 L313.10 282.14 L316.98 284.95 L315.50 289.51 L319.38 286.70 L323.26 289.51 L321.78 284.95 L325.66 282.14 L320.86 282.14Z M319.74 278.29 L318.26 282.86 L313.47 282.86 L317.35 285.67 L315.86 290.23 L319.74 287.42 L323.62 290.23 L322.14 285.67 L326.02 282.86 L321.22 282.86Z M320.10 279.67 L318.62 284.23 L313.83 284.23 L317.71 287.05 L316.23 291.61 L320.10 288.79 L323.98 291.61 L322.50 287.05 L326.38 284.23 L321.59 284.23Z M320.46 279.78 L318.98 284.34 L314.19 284.34 L318.07 287.16 L316.58 291.72 L320.46 288.90 L324.34 291.72 L322.86 287.16 L326.74 284.34 L321.95 284.34Z M320.82 279.40 L319.34 283.96 L314.54 283.96 L318.42 286.78 L316.94 291.34 L320.82 288.52 L324.70 291.34 L323.22 286.78 L327.10 283.96 L322.30 283.96Z M321.18 280.49 L319.70 285.05 L314.90 285.05 L318.78 287.87 L317.30 292.43 L321.18 289.61 L325.06 292.43 L323.57 287.87 L327.45 285.05 L322.66 285.05Z M321.53 281.91 L320.05 286.47 L315.25 286.47 L319.13 289.29 L317.65 293.85 L321.53 291.03 L325.41 293.85 L323.93 289.29 L327.81 286.47 L323.01 286.47Z M321.88 282.52 L320.40 287.09 L315.60 287.09 L319.48 289.90 L318.00 294.46 L321.88 291.65 L325.76 294.46 L324.28 289.90 L328.16 287.09 L323.36 287.09Z M322.23 283.69 L320.75 288.25 L315.95 288.25 L319.83 291.07 L318.35 295.63 L322.23 292.81 L326.11 295.63 L324.63 291.07 L328.51 288.25 L323.71 288.25Z M322.58 285.32 L321.09 289.88 L316.30 289.88 L320.18 292.70 L318.70 297.26 L322.58 294.44 L326.46 297.26 L324.97 292.70 L328.85 289.88 L324.06 289.88Z M322.92 285.47 L321.44 290.03 L316.64 290.03 L320.52 292.85 L319.04 297.41 L322.92 294.59 L326.80 297.41 L325.32 292.85 L329.20 290.03 L324.40 290.03Z M323.26 284.71 L321.78 289.27 L316.99 289.27 L320.87 292.09 L319.38 296.65 L323.26 293.83 L327.14 296.65 L325.66 292.09 L329.54 289.27 L324.75 289.27Z M323.60 284.91 L322.12 289.47 L317.33 289.47 L321.21 292.29 L319.72 296.85 L323.60 294.03 L327.48 296.85 L326.00 292.29 L329.88 289.47 L325.09 289.47Z M323.94 285.40 L322.46 289.96 L317.67 289.96 L321.54 292.78 L320.06 297.34 L323.94 294.53 L327.82 297.34 L326.34 292.78 L330.22 289.96 L325.42 289.96Z M324.28 285.15 L322.80 289.71 L318.00 289.71 L321.88 292.52 L320.40 297.08 L324.28 294.27 L328.16 297.08 L326.68 292.52 L330.56 289.71 L325.76 289.71Z M324.61 285.38 L323.13 289.94 L318.34 289.94 L322.22 292.76 L320.73 297.32 L324.61 294.50 L328.49 297.32 L327.01 292.76 L330.89 289.94 L326.10 289.94Z M324.95 286.67 L323.46 291.23 L318.67 291.23 L322.55 294.04 L321.07 298.60 L324.95 295.79 L328.83 298.60 L327.34 294.04 L331.22 291.23 L326.43 291.23Z M325.28 287.25 L323.79 291.81 L319.00 291.81 L322.88 294.63 L321.40 299.19 L325.28 296.37 L329.16 299.19 L327.67 294.63 L331.55 291.81 L326.76 291.81Z M325.61 286.61 L324.12 291.17 L319.33 291.17 L323.21 293.99 L321.73 298.55 L325.61 295.73 L329.48 298.55 L328.00 293.99 L331.88 291.17 L327.09 291.17Z M325.93 286.39 L324.45 290.95 L319.66 290.95 L323.53 293.77 L322.05 298.33 L325.93 295.52 L329.81 298.33 L328.33 293.77 L332.21 290.95 L327.41 290.95Z M326.26 286.75 L324.78 291.31 L319.98 291.31 L323.86 294.13 L322.38 298.69 L326.26 295.87 L330.14 298.69 L328.65 294.13 L332.53 291.31 L327.74 291.31Z M326.58 286.61 L325.10 291.17 L320.30 291.17 L324.18 293.99 L322.70 298.55 L326.58 295.73 L330.46 298.55 L328.98 293.99 L332.86 291.17 L328.06 291.17Z M326.90 286.33 L325.42 290.89 L320.62 290.89 L324.50 293.71 L323.02 298.27 L326.90 295.45 L330.78 298.27 L329.30 293.71 L333.18 290.89 L328.38 290.89Z M327.22 287.34 L325.74 291.90 L320.94 291.90 L324.82 294.72 L323.34 299.28 L327.22 296.46 L331.10 299.28 L329.62 294.72 L333.50 291.90 L328.70 291.90Z M327.54 289.03 L326.06 293.59 L321.26 293.59 L325.14 296.41 L323.66 300.97 L327.54 298.15 L331.42 300.97 L329.94 296.41 L333.82 293.59 L329.02 293.59Z M327.86 289.74 L326.37 294.30 L321.58 294.30 L325.46 297.12 L323.98 301.68 L327.86 298.86 L331.73 301.68 L330.25 297.12 L334.13 294.30 L329.34 294.30Z M328.17 289.74 L326.69 294.30 L321.89 294.30 L325.77 297.12 L324.29 301.68 L328.17 298.86 L332.05 301.68 L330.57 297.12 L334.45 294.30 L329.65 294.30Z M328.48 290.31 L327.00 294.88 L322.21 294.88 L326.08 297.69 L324.60 302.25 L328.48 299.44 L332.36 302.25 L330.88 297.69 L334.76 294.88 L329.96 294.88Z M328.79 290.99 L327.31 295.55 L322.52 295.55 L326.40 298.37 L324.91 302.93 L328.79 300.11 L332.67 302.93 L331.19 298.37 L335.07 295.55 L330.28 295.55Z M329.10 290.72 L327.62 295.28 L322.83 295.28 L326.71 298.10 L325.22 302.66 L329.10 299.84 L332.98 302.66 L331.50 298.10 L335.38 295.28 L330.58 295.28Z M329.41 290.33 L327.93 294.89 L323.13 294.89 L327.01 297.71 L325.53 302.27 L329.41 299.45 L333.29 302.27 L331.81 297.71 L335.69 294.89 L330.89 294.89Z M329.72 291.10 L328.23 295.66 L323.44 295.66 L327.32 298.48 L325.84 303.04 L329.72 300.22 L333.60 303.04 L332.11 298.48 L335.99 295.66 L331.20 295.66Z M330.02 292.36 L328.54 296.92 L323.74 296.92 L327.62 299.74 L326.14 304.30 L330.02 301.48 L333.90 304.30 L332.42 299.74 L336.30 296.92 L331.50 296.92Z M330.32 292.73 L328.84 297.29 L324.05 297.29 L327.93 300.10 L326.44 304.66 L330.32 301.85 L334.20 304.66 L332.72 300.10 L336.60 297.29 L331.81 297.29Z M330.62 292.50 L329.14 297.06 L324.35 297.06 L328.23 299.88 L326.75 304.44 L330.62 301.62 L334.50 304.44 L333.02 299.88 L336.90 297.06 L332.11 297.06Z M330.92 292.75 L329.44 297.31 L324.65 297.31 L328.53 300.13 L327.04 304.69 L330.92 301.87 L334.80 304.69 L333.32 300.13 L337.20 297.31 L332.41 297.31Z M331.22 293.05 L329.74 297.61 L324.95 297.61 L328.82 300.43 L327.34 304.99 L331.22 302.17 L335.10 304.99 L333.62 300.43 L337.50 297.61 L332.70 297.61Z M331.52 292.34 L330.04 296.90 L325.24 296.90 L329.12 299.72 L327.64 304.28 L331.52 301.46 L335.40 304.28 L333.92 299.72 L337.80 296.90 L333.00 296.90Z M331.81 291.17 L330.33 295.73 L325.54 295.73 L329.42 298.55 L327.93 303.11 L331.81 300.29 L335.69 303.11 L334.21 298.55 L338.09 295.73 L333.30 295.73Z M332.11 290.95 L330.63 295.51 L325.83 295.51 L329.71 298.33 L328.23 302.89 L332.11 300.08 L335.99 302.89 L334.50 298.33 L338.38 295.51 L333.59 295.51Z M332.40 291.66 L330.92 296.22 L326.12 296.22 L330.00 299.04 L328.52 303.60 L332.40 300.79 L336.28 303.60 L334.80 299.04 L338.68 296.22 L333.88 296.22Z M332.69 292.08 L331.21 296.64 L326.41 296.64 L330.29 299.46 L328.81 304.02 L332.69 301.20 L336.57 304.02 L335.09 299.46 L338.97 296.64 L334.17 296.64Z M332.98 291.99 L331.50 296.55 L326.70 296.55 L330.58 299.37 L329.10 303.93 L332.98 301.11 L336.86 303.93 L335.38 299.37 L339.26 296.55 L334.46 296.55Z M333.27 292.37 L331.78 296.93 L326.99 296.93 L330.87 299.75 L329.39 304.31 L333.27 301.49 L337.15 304.31 L335.66 299.75 L339.54 296.93 L334.75 296.93Z" fill="#ff0000" stroke="#ff0000" stroke-width="1.2" stroke-linejoin="round"/></g><g clip-path="url(#cr)"><path d="M431.4 50.7 L434.7 54.1 L442.3 66.1 L450.3 80.0 L459.0 95.1 L466.8 111.2 L473.8 122.2 L479.5 134.2 L485.5 147.1 L492.2 165.0 L497.2 181.1 L502.3 192.2 L506.2 201.1 L508.3 208.9 L511.3 218.0 L518.4 226.5 L529.8 232.8 L536.9 237.2 L542.9 247.1 L548.2 258.0 L555.2 266.0 L561.7 269.7 L568.1 272.5 L572.8 277.0 L578.0 283.6 L583.1 288.7 L586.9 285.3 L582.6 279.8 L577.2 273.0 L571.5 267.5 L564.3 264.3 L559.0 261.4 L553.2 254.6 L548.1 244.3 L541.3 233.2 L533.6 227.0 L523.6 220.5 L518.3 214.0 L514.9 206.5 L511.8 198.9 L507.7 189.8 L502.8 178.9 L497.8 163.0 L490.5 144.9 L484.5 131.8 L478.2 119.8 L471.2 108.8 L463.0 92.9 L453.7 78.0 L445.7 63.9 L437.3 51.9 L433.4 48.5Z" fill="#d0ecea"/><path d="M432.4 49.6 L436.0 53.0 L444.0 65.0 L452.0 79.0 L461.0 94.0 L469.0 110.0 L476.0 121.0 L482.0 133.0 L488.0 146.0 L495.0 164.0 L500.0 180.0 L505.0 191.0 L509.0 200.0 L511.6 207.7 L514.8 216.0 L521.0 223.5 L531.7 229.9 L539.1 235.2 L545.5 245.7 L550.7 256.3 L557.1 263.7 L563.0 267.0 L569.8 270.0 L575.0 275.0 L580.3 281.7 L585.0 287.0" fill="none" stroke="#35aba2" stroke-width="1.1" stroke-linejoin="round"/><path d="M430.71 42.45 L435.72 42.45 L435.72 47.10 L440.37 47.10 L440.37 52.10 L435.72 52.10 L435.72 56.75 L430.71 56.75 L430.71 52.10 L426.07 52.10 L426.07 47.10 L430.71 47.10Z M509.00 200.55 L514.00 200.55 L514.00 205.20 L518.65 205.20 L518.65 210.20 L514.00 210.20 L514.00 214.85 L509.00 214.85 L509.00 210.20 L504.35 210.20 L504.35 205.20 L509.00 205.20Z M537.59 228.05 L542.59 228.05 L542.59 232.70 L547.24 232.70 L547.24 237.70 L542.59 237.70 L542.59 242.35 L537.59 242.35 L537.59 237.70 L532.94 237.70 L532.94 232.70 L537.59 232.70Z M555.47 256.55 L560.48 256.55 L560.48 261.20 L565.13 261.20 L565.13 266.20 L560.48 266.20 L560.48 270.85 L555.47 270.85 L555.47 266.20 L550.83 266.20 L550.83 261.20 L555.47 261.20Z M568.52 262.85 L573.53 262.85 L573.53 267.50 L578.18 267.50 L578.18 272.50 L573.53 272.50 L573.53 277.15 L568.52 277.15 L568.52 272.50 L563.88 272.50 L563.88 267.50 L568.52 267.50Z M578.80 274.55 L583.81 274.55 L583.81 279.20 L588.45 279.20 L588.45 284.20 L583.81 284.20 L583.81 288.85 L578.80 288.85 L578.80 284.20 L574.15 284.20 L574.15 279.20 L578.80 279.20Z" fill="#35aba2"/><path d="M486.0 96.0 L494.0 105.0 L504.0 121.0 L506.4 128.0 L511.5 135.7 L516.1 142.7 L520.4 150.9 L524.3 160.0 L527.9 166.7 L531.2 173.0 L534.4 178.8 L537.3 184.3 L540.1 187.2 L542.7 189.9 L545.2 192.5 L547.6 195.0 L549.9 198.7 L552.0 202.3 L554.1 205.7 L556.1 209.0 L558.0 210.2 L559.8 211.4 L561.6 212.6 L563.3 213.7 L564.9 218.5 L566.5 223.1 L568.1 227.6 L569.6 232.0 L571.0 234.7 L572.4 237.3 L573.8 239.8 L575.1 242.3 L576.4 243.7 L577.7 245.1 L578.9 246.4 L580.1 247.7 L581.3 249.1 L582.4 250.4 L583.6 251.7 L584.7 253.0 L585.7 254.7 L586.8 256.4 L587.8 258.1 L588.8 259.7 L589.8 260.5 L590.7 261.4 L591.7 262.2 L592.6 263.0 L593.5 264.4 L594.4 265.7 L595.3 267.0 L596.2 268.3 L597.0 268.6 L597.8 268.9 L598.7 269.2 L599.5 269.5 L600.2 269.8 L601.0 270.0 L601.8 270.3 L602.5 270.5 L603.3 270.8 L604.0 271.0 L604.7 271.3 L605.5 271.5 L606.2 272.1 L606.8 272.6 L607.5 273.2 L608.2 273.8 L608.9 274.3 L609.5 274.6 L610.2 274.8 L610.8 275.1 L611.4 275.3 L612.0 275.5 L612.6 275.8 L613.3 276.0 L613.8 276.2 L614.4 276.5 L615.0 276.7 L615.6 276.9 L616.2 277.1 L616.7 277.4 L617.3 277.6 L617.8 277.8 L618.4 278.0 L618.9 278.3 L619.4 278.6 L620.0 278.9 L620.5 279.2 L621.0 279.4 L621.5 279.7 L622.0 280.0 L622.5 280.3 L623.0 280.5 L623.5 280.8 L624.0 281.1 L624.5 281.3 L624.9 281.6 L625.4 281.9 L625.9 282.1 L626.3 282.4 L626.8 282.6 L627.2 282.9 L627.7 283.1 L628.1 283.4 L628.6 283.6 L629.0 283.8 L629.4 284.1 L629.9 284.3 L630.3 284.5 L630.7 284.8 L631.1 285.0" fill="none" stroke="#d5ebd0" stroke-width="8.0" stroke-linejoin="round" stroke-linecap="round" opacity="1"/><path d="M477.4 53.4 L486.0 96.0 L494.0 105.0 L504.0 121.0 L506.4 128.0 L511.5 135.7 L516.1 142.7 L520.4 150.9 L524.3 160.0 L527.9 166.7 L531.2 173.0 L534.4 178.8 L537.3 184.3 L540.1 187.2 L542.7 189.9 L545.2 192.5 L547.6 195.0 L549.9 198.7 L552.0 202.3 L554.1 205.7 L556.1 209.0 L558.0 210.2 L559.8 211.4 L561.6 212.6 L563.3 213.7 L564.9 218.5 L566.5 223.1 L568.1 227.6 L569.6 232.0 L571.0 234.7 L572.4 237.3 L573.8 239.8 L575.1 242.3 L576.4 243.7 L577.7 245.1 L578.9 246.4 L580.1 247.7 L581.3 249.1 L582.4 250.4 L583.6 251.7 L584.7 253.0 L585.7 254.7 L586.8 256.4 L587.8 258.1 L588.8 259.7 L589.8 260.5 L590.7 261.4 L591.7 262.2 L592.6 263.0 L593.5 264.4 L594.4 265.7 L595.3 267.0 L596.2 268.3 L597.0 268.6 L597.8 268.9 L598.7 269.2 L599.5 269.5 L600.2 269.8 L601.0 270.0 L601.8 270.3 L602.5 270.5 L603.3 270.8 L604.0 271.0 L604.7 271.3 L605.5 271.5 L606.2 272.1 L606.8 272.6 L607.5 273.2 L608.2 273.8 L608.9 274.3 L609.5 274.6 L610.2 274.8 L610.8 275.1 L611.4 275.3 L612.0 275.5 L612.6 275.8 L613.3 276.0 L613.8 276.2 L614.4 276.5 L615.0 276.7 L615.6 276.9 L616.2 277.1 L616.7 277.4 L617.3 277.6 L617.8 277.8 L618.4 278.0 L618.9 278.3 L619.4 278.6 L620.0 278.9 L620.5 279.2 L621.0 279.4 L621.5 279.7 L622.0 280.0 L622.5 280.3 L623.0 280.5 L623.5 280.8 L624.0 281.1 L624.5 281.3 L624.9 281.6 L625.4 281.9 L625.9 282.1 L626.3 282.4 L626.8 282.6 L627.2 282.9 L627.7 283.1 L628.1 283.4 L628.6 283.6 L629.0 283.8 L629.4 284.1 L629.9 284.3 L630.3 284.5 L630.7 284.8 L631.1 285.0" fill="none" stroke="#4fb034" stroke-width="1.3" stroke-linejoin="round"/><path d="M477.78 46.40 L470.78 60.40 L484.78 60.40Z M506.38 121.00 L499.38 135.00 L513.38 135.00Z M524.26 153.00 L517.26 167.00 L531.26 167.00Z M537.31 177.30 L530.31 191.30 L544.31 191.30Z M547.59 188.00 L540.59 202.00 L554.59 202.00Z M556.07 202.00 L549.07 216.00 L563.07 216.00Z M563.29 206.70 L556.29 220.70 L570.29 220.70Z M569.57 225.00 L562.57 239.00 L576.57 239.00Z M575.14 235.30 L568.14 249.30 L582.14 249.30Z M580.13 240.70 L573.13 254.70 L587.13 254.70Z M584.66 246.00 L577.66 260.00 L591.66 260.00Z M588.80 252.70 L581.80 266.70 L595.80 266.70Z M592.62 256.00 L585.62 270.00 L599.62 270.00Z M596.16 261.30 L589.16 275.30 L603.16 275.30Z M599.46 262.50 L592.46 276.50 L606.46 276.50Z M602.55 263.53 L595.55 277.53 L609.55 277.53Z M605.45 264.50 L598.45 278.50 L612.45 278.50Z M608.19 266.76 L601.19 280.76 L615.19 280.76Z M610.79 268.05 L603.79 282.05 L617.79 282.05Z M613.25 269.01 L606.25 283.01 L620.25 283.01Z M615.59 269.92 L608.59 283.92 L622.59 283.92Z M617.83 270.79 L610.83 284.79 L624.83 284.79Z M619.97 271.87 L612.97 285.87 L626.97 285.87Z M622.02 273.00 L615.02 287.00 L629.02 287.00Z M623.98 274.08 L616.98 288.08 L630.98 288.08Z M625.87 275.11 L618.87 289.11 L632.87 289.11Z M627.69 276.11 L620.69 290.11 L634.69 290.11Z M629.44 277.07 L622.44 291.07 L636.44 291.07Z M631.14 278.00 L624.14 292.00 L638.14 292.00Z" fill="#4fb034" stroke="#4fb034" stroke-width="1" stroke-linejoin="miter"/><path d="M511.6 52.0 L515.0 85.0 L520.4 93.3 L527.9 107.3 L534.4 115.3 L540.1 122.0 L545.2 130.7 L549.9 140.0 L554.1 147.3 L558.0 156.0 L561.6 162.0 L564.9 170.0 L568.1 180.0 L571.0 188.0 L573.8 193.4 L576.4 198.7 L578.9 204.0 L581.3 207.7 L583.6 211.3 L585.7 214.4 L587.8 217.0 L589.8 219.6 L591.7 222.0 L593.5 224.4 L595.3 226.7 L597.0 228.9 L598.7 231.4 L600.2 234.3 L601.8 237.0 L603.3 238.7 L604.7 240.4 L606.2 242.0 L607.5 243.8 L608.9 245.5 L610.2 247.2 L611.4 248.8 L612.6 250.4 L613.8 252.0 L615.0 253.4 L616.2 254.7 L617.3 256.0 L618.4 257.2 L619.4 258.4 L620.5 259.5 L621.5 260.7 L622.5 261.8 L623.5 262.9 L624.5 263.9 L625.4 265.0 L626.3 266.0 L627.2 266.8 L628.1 267.7 L629.0 268.5 L629.9 269.2 L630.7 270.0 L631.6 270.8 L632.4 271.5 L633.2 272.3 L634.0 273.0 L634.7 274.0 L635.5 275.1 L636.3 276.1 L637.0 277.1 L637.7 278.1 L638.5 279.0 L639.2 280.0 L639.9 281.2 L640.6 282.4 L641.2 283.6 L641.9 284.7 L642.6 285.9 L643.2 287.0 L643.9 287.6 L644.5 288.1 L645.1 288.6 L645.7 289.2 L646.4 289.7 L647.0 290.2 L647.6 290.7 L648.2 291.0 L648.7 291.0 L649.3 291.0 L649.9 291.0 L650.4 291.0 L651.0 291.0 L651.5 291.0 L652.1 291.0 L652.6 291.0 L653.2 291.0 L653.7 291.0 L654.2 291.0 L654.7 291.0 L655.2 291.0 L655.7 291.0 L656.2 291.0 L656.7 291.0 L657.2 291.0" fill="none" stroke="#b9952f" stroke-width="1.3" stroke-linejoin="round"/><path d="M511.50 59.00 L504.50 45.00 L518.50 45.00Z M520.37 100.30 L513.37 86.30 L527.37 86.30Z M527.87 114.30 L520.87 100.30 L534.87 100.30Z M534.36 122.30 L527.36 108.30 L541.36 108.30Z M540.09 129.00 L533.09 115.00 L547.09 115.00Z M545.22 137.70 L538.22 123.70 L552.22 123.70Z M549.85 147.00 L542.85 133.00 L556.85 133.00Z M554.08 154.30 L547.08 140.30 L561.08 140.30Z M557.98 163.00 L550.98 149.00 L564.98 149.00Z M561.58 169.00 L554.58 155.00 L568.58 155.00Z M564.94 177.00 L557.94 163.00 L571.94 163.00Z M568.08 187.00 L561.08 173.00 L575.08 173.00Z M571.03 195.00 L564.03 181.00 L578.03 181.00Z M573.81 200.41 L566.81 186.41 L580.81 186.41Z M576.44 205.74 L569.44 191.74 L583.44 191.74Z M578.93 211.00 L571.93 197.00 L585.93 197.00Z M581.30 214.73 L574.30 200.73 L588.30 200.73Z M583.57 218.28 L576.57 204.28 L590.57 204.28Z M585.73 221.37 L578.73 207.37 L592.73 207.37Z M587.80 224.02 L580.80 210.02 L594.80 210.02Z M589.78 226.56 L582.78 212.56 L596.78 212.56Z M591.69 229.00 L584.69 215.00 L598.69 215.00Z M593.53 231.39 L586.53 217.39 L600.53 217.39Z M595.30 233.69 L588.30 219.69 L602.30 219.69Z M597.00 235.92 L590.00 221.92 L604.00 221.92Z M598.65 238.45 L591.65 224.45 L605.65 224.45Z M600.25 241.27 L593.25 227.27 L607.25 227.27Z M601.79 244.00 L594.79 230.00 L608.79 230.00Z M603.29 245.72 L596.29 231.72 L610.29 231.72Z M604.74 247.38 L597.74 233.38 L611.74 233.38Z M606.15 249.00 L599.15 235.00 L613.15 235.00Z M607.52 250.77 L600.52 236.77 L614.52 236.77Z M608.85 252.50 L601.85 238.50 L615.85 238.50Z M610.15 254.18 L603.15 240.18 L617.15 240.18Z M611.41 255.82 L604.41 241.82 L618.41 241.82Z M612.65 257.43 L605.65 243.43 L619.65 243.43Z M613.85 259.00 L606.85 245.00 L620.85 245.00Z M615.02 260.36 L608.02 246.36 L622.02 246.36Z M616.16 261.70 L609.16 247.70 L623.16 247.70Z M617.28 263.00 L610.28 249.00 L624.28 249.00Z M618.38 264.21 L611.38 250.21 L625.38 250.21Z M619.44 265.39 L612.44 251.39 L626.44 251.39Z M620.49 266.54 L613.49 252.54 L627.49 252.54Z M621.51 267.68 L614.51 253.68 L628.51 253.68Z M622.52 268.78 L615.52 254.78 L629.52 254.78Z M623.50 269.87 L616.50 255.87 L630.50 255.87Z M624.46 270.93 L617.46 256.93 L631.46 256.93Z M625.41 271.98 L618.41 257.98 L632.41 257.98Z M626.33 273.00 L619.33 259.00 L633.33 259.00Z M627.24 273.83 L620.24 259.83 L634.24 259.83Z M628.14 274.65 L621.14 260.65 L635.14 260.65Z M629.01 275.46 L622.01 261.46 L636.01 261.46Z M629.87 276.25 L622.87 262.25 L636.87 262.25Z M630.72 277.02 L623.72 263.02 L637.72 263.02Z M631.55 277.79 L624.55 263.79 L638.55 263.79Z M632.37 278.54 L625.37 264.54 L639.37 264.54Z M633.17 279.27 L626.17 265.27 L640.17 265.27Z M633.96 280.00 L626.96 266.00 L640.96 266.00Z M634.74 281.05 L627.74 267.05 L641.74 267.05Z M635.51 282.08 L628.51 268.08 L642.51 268.08Z M636.26 283.09 L629.26 269.09 L643.26 269.09Z M637.00 284.09 L630.00 270.09 L644.00 270.09Z M637.74 285.08 L630.74 271.08 L644.74 271.08Z M638.46 286.04 L631.46 272.04 L645.46 272.04Z M639.17 287.00 L632.17 273.00 L646.17 273.00Z M639.87 288.21 L632.87 274.21 L646.87 274.21Z M640.56 289.40 L633.56 275.40 L647.56 275.40Z M641.24 290.57 L634.24 276.57 L648.24 276.57Z M641.91 291.73 L634.91 277.73 L648.91 277.73Z M642.57 292.87 L635.57 278.87 L649.57 278.87Z M643.22 294.00 L636.22 280.00 L650.22 280.00Z M643.87 294.56 L636.87 280.56 L650.87 280.56Z M644.50 295.10 L637.50 281.10 L651.50 281.10Z M645.13 295.65 L638.13 281.65 L652.13 281.65Z M645.75 296.18 L638.75 282.18 L652.75 282.18Z M646.36 296.71 L639.36 282.71 L653.36 282.71Z M646.97 297.23 L639.97 283.23 L653.97 283.23Z M647.56 297.74 L640.56 283.74 L654.56 283.74Z M648.15 298.00 L641.15 284.00 L655.15 284.00Z M648.73 298.00 L641.73 284.00 L655.73 284.00Z M649.31 298.00 L642.31 284.00 L656.31 284.00Z M649.88 298.00 L642.88 284.00 L656.88 284.00Z M650.44 298.00 L643.44 284.00 L657.44 284.00Z M651.00 298.00 L644.00 284.00 L658.00 284.00Z M651.55 298.00 L644.55 284.00 L658.55 284.00Z M652.09 298.00 L645.09 284.00 L659.09 284.00Z M652.63 298.00 L645.63 284.00 L659.63 284.00Z M653.16 298.00 L646.16 284.00 L660.16 284.00Z M653.69 298.00 L646.69 284.00 L660.69 284.00Z M654.21 298.00 L647.21 284.00 L661.21 284.00Z M654.72 298.00 L647.72 284.00 L661.72 284.00Z M655.23 298.00 L648.23 284.00 L662.23 284.00Z M655.73 298.00 L648.73 284.00 L662.73 284.00Z M656.23 298.00 L649.23 284.00 L663.23 284.00Z M656.73 298.00 L649.73 284.00 L663.73 284.00Z M657.22 298.00 L650.22 284.00 L664.22 284.00Z" fill="#b9952f" stroke="#b9952f" stroke-width="1" stroke-linejoin="miter"/><path d="M545.2 51.0 L547.6 85.0 L549.9 91.0 L552.0 98.0 L554.1 102.8 L556.1 105.1 L558.0 109.5 L559.8 112.3 L561.6 113.6 L563.3 114.9 L564.9 116.5 L566.5 120.5 L568.1 122.6 L569.6 121.5 L571.0 123.8 L572.4 125.7 L573.8 130.2 L575.1 130.6 L576.4 132.4 L577.7 132.4 L578.9 135.4 L580.1 137.7 L581.3 139.6 L582.4 142.0 L583.6 142.1 L584.7 145.0 L585.7 146.8 L586.8 150.4 L587.8 154.8 L588.8 156.2 L589.8 158.4 L590.7 159.6 L591.7 160.7 L592.6 165.0 L593.5 167.1 L594.4 167.6 L595.3 170.5 L596.2 172.1 L597.0 170.9 L597.8 172.2 L598.7 174.5 L599.5 174.3 L600.2 176.3 L601.0 179.7 L601.8 180.2 L602.5 181.1 L603.3 182.2 L604.0 183.0 L604.7 183.3 L605.5 182.7 L606.2 185.5 L606.8 186.8 L607.5 188.1 L608.2 189.2 L608.9 191.5 L609.5 193.4 L610.2 193.2 L610.8 193.6 L611.4 194.2 L612.0 196.1 L612.6 196.3 L613.3 197.2 L613.8 198.4 L614.4 201.2 L615.0 202.9 L615.6 203.4 L616.2 203.8 L616.7 204.3 L617.3 206.1 L617.8 205.7 L618.4 206.1 L618.9 205.0 L619.4 206.5 L620.0 207.6 L620.5 208.8 L621.0 209.8 L621.5 209.6 L622.0 211.6 L622.5 212.6 L623.0 214.2 L623.5 214.7 L624.0 213.8 L624.5 214.5 L624.9 214.4 L625.4 215.4 L625.9 216.5 L626.3 215.8 L626.8 216.4 L627.2 216.9 L627.7 217.6 L628.1 220.1 L628.6 221.0 L629.0 221.5 L629.4 222.5 L629.9 222.2 L630.3 223.1 L630.7 224.7 L631.1 224.8 L631.6 225.1 L632.0 225.3 L632.4 224.4 L632.8 224.8 L633.2 226.4 L633.6 227.0 L634.0 228.1 L634.4 229.5 L634.7 229.5 L635.1 229.8 L635.5 231.5 L635.9 232.6 L636.3 233.6 L636.6 235.5 L637.0 236.3 L637.4 235.8 L637.7 236.0 L638.1 236.8 L638.5 236.7 L638.8 237.3 L639.2 238.7 L639.5 239.0 L639.9 238.4 L640.2 238.6 L640.6 239.1 L640.9 239.0 L641.2 239.5 L641.6 241.4 L641.9 242.7 L642.2 243.0 L642.6 243.7 L642.9 244.6 L643.2 244.7 L643.5 244.5 L643.9 245.5 L644.2 246.9 L644.5 247.4 L644.8 247.5 L645.1 248.0 L645.4 248.4 L645.7 247.7 L646.1 247.0 L646.4 247.3 L646.7 248.3 L647.0 248.6 L647.3 248.8 L647.6 249.7 L647.9 250.8 L648.2 250.8 L648.4 250.4 L648.7 250.8 L649.0 251.9 L649.3 252.7 L649.6 253.2 L649.9 254.4 L650.2 256.3 L650.4 257.6 L650.7 257.8 L651.0 257.8 L651.3 258.4 L651.5 259.2 L651.8 259.5 L652.1 259.6 L652.4 260.4 L652.6 261.7 L652.9 262.8 L653.2 262.9 L653.4 262.8 L653.7 263.2 L653.9 263.8 L654.2 264.2 L654.5 264.2 L654.7 264.6 L655.0 265.5 L655.2 266.8 L655.5 267.6 L655.7 267.8 L656.0 268.1 L656.2 268.8 L656.5 269.5 L656.7 269.6 L657.0 269.3 L657.2 269.4 L657.5 270.2 L657.7 271.3 L657.9 271.9 L658.2 272.0 L658.4 272.2 L658.7 272.5 L658.9 272.8 L659.1 272.5 L659.4 271.6 L659.6 270.7 L659.8 270.5 L660.0 270.8 L660.3 271.1 L660.5 271.0 L660.7 270.8 L661.0 270.9 L661.2 271.5 L661.4 272.0 L661.6 271.9 L661.9 271.4 L662.1 270.9 L662.3 270.9 L662.5 271.4 L662.7 271.8 L662.9 272.0 L663.2 272.0 L663.4 272.5 L663.6 273.3 L663.8 274.3 L664.0 274.8 L664.2 275.0 L664.4 274.9 L664.6 275.1 L664.9 275.6 L665.1 276.1 L665.3 276.4 L665.5 276.3 L665.7 276.3 L665.9 276.7 L666.1 277.6 L666.3 278.5 L666.5 279.1 L666.7 279.1 L666.9 278.9 L667.1 278.9 L667.3 279.1 L667.5 279.5 L667.7 279.6 L667.9 279.4 L668.1 279.2 L668.3 279.3 L668.5 280.0 L668.6 281.0 L668.8 282.0 L669.0 282.6 L669.2 282.9 L669.4 283.2 L669.6 283.6 L669.8 284.4 L670.0 285.0 L670.2 285.4 L670.3 285.3 L670.5 285.2 L670.7 285.3 L670.9 285.8 L671.1 286.7 L671.3 287.6 L671.5 288.2 L671.6 288.5 L671.8 288.7 L672.0 289.1 L672.2 289.7 L672.4 290.4 L672.5 290.7 L672.7 290.7 L672.9 290.3 L673.1 289.8 L673.2 289.6 L673.4 289.8 L673.6 290.2 L673.8 290.6 L673.9 290.8 L674.1 290.8 L674.3 290.8 L674.4 291.1 L674.6 291.3 L674.8 291.8 L675.0 292.0 L675.1 292.0 L675.3 291.6 L675.5 291.0 L675.6 290.6 L675.8 290.4 L676.0 290.6 L676.1 292.0 L676.3 292.0 L676.4 292.0 L676.6 292.0 L676.8 292.0 L676.9 292.0 L677.1 292.0 L677.3 292.0 L677.4 292.0 L677.6 292.0 L677.7 292.0 L677.9 292.0 L678.1 292.0 L678.2 292.0 L678.4 292.0 L678.5 292.0 L678.7 292.0 L678.8 292.0 L679.0 292.0 L679.2 292.0 L679.3 292.0 L679.5 292.0 L679.6 292.0 L679.8 292.0 L679.9 292.0 L680.1 292.0 L680.2 292.0 L680.4 292.0 L680.5 292.0 L680.7 292.0 L680.8 292.0 L681.0 292.0 L681.1 292.0 L681.3 292.0 L681.4 292.0 L681.6 292.0 L681.7 292.0 L681.9 292.0 L682.0 292.0 L682.2 292.0 L682.3 292.0 L682.4 292.0 L682.6 292.0 L682.7 292.0 L682.9 292.0 L683.0 292.0 L683.2 292.0 L683.3 292.0 L683.5 292.0 L683.6 292.0 L683.7 292.0 L683.9 292.0 L684.0 292.0 L684.2 292.0 L684.3 292.0 L684.4 292.0 L684.6 292.0 L684.7 292.0 L684.9 292.0 L685.0 292.0 L685.1 292.0 L685.3 292.0 L685.4 292.0 L685.5 292.0 L685.7 292.0 L685.8 292.0 L685.9 292.0 L686.1 292.0 L686.2 292.0 L686.3 292.0 L686.5 292.0 L686.6 292.0 L686.7 292.0 L686.9 292.0 L687.0 292.0 L687.1 292.0 L687.3 292.0 L687.4 292.0 L687.5 292.0 L687.7 292.0 L687.8 292.0 L687.9 292.0 L688.1 292.0 L688.2 292.0 L688.3 292.0 L688.4 292.0 L688.6 292.0 L688.7 292.0 L688.8 292.0 L688.9 292.0 L689.1 292.0 L689.2 292.0 L689.3 292.0 L689.4 292.0 L689.6 292.0 L689.7 292.0 L689.8 292.0 L689.9 292.0 L690.1 292.0 L690.2 292.0 L690.3 292.0 L690.4 292.0 L690.6 292.0 L690.7 292.0 L690.8 292.0 L690.9 292.0" fill="none" stroke="#ff0000" stroke-width="1.4" stroke-linejoin="round"/><path d="M545.22 45.00 L543.87 49.15 L539.51 49.15 L543.04 51.71 L541.69 55.85 L545.22 53.29 L548.74 55.85 L547.39 51.71 L550.92 49.15 L546.56 49.15Z M547.59 79.00 L546.24 83.15 L541.88 83.15 L545.41 85.71 L544.06 89.85 L547.59 87.29 L551.12 89.85 L549.77 85.71 L553.29 83.15 L548.94 83.15Z" fill="#ff0000" stroke="#ff0000" stroke-width="1.2" stroke-linejoin="round"/><path d="M549.85 84.40 L548.37 88.96 L543.57 88.96 L547.45 91.78 L545.97 96.34 L549.85 93.52 L553.73 96.34 L552.25 91.78 L556.13 88.96 L551.33 88.96Z M552.01 91.38 L550.53 95.94 L545.74 95.94 L549.62 98.76 L548.13 103.32 L552.01 100.50 L555.89 103.32 L554.41 98.76 L558.29 95.94 L553.50 95.94Z M554.08 96.21 L552.60 100.78 L547.81 100.78 L551.69 103.59 L550.20 108.15 L554.08 105.34 L557.96 108.15 L556.48 103.59 L560.36 100.78 L555.57 100.78Z M556.07 98.47 L554.59 103.03 L549.79 103.03 L553.67 105.85 L552.19 110.41 L556.07 107.59 L559.95 110.41 L558.47 105.85 L562.35 103.03 L557.55 103.03Z M557.98 102.94 L556.50 107.50 L551.70 107.50 L555.58 110.31 L554.10 114.88 L557.98 112.06 L561.86 114.88 L560.37 110.31 L564.25 107.50 L559.46 107.50Z M559.81 105.73 L558.33 110.29 L553.54 110.29 L557.42 113.11 L555.93 117.67 L559.81 114.86 L563.69 117.67 L562.21 113.11 L566.09 110.29 L561.29 110.29Z M561.58 107.01 L560.10 111.57 L555.30 111.57 L559.18 114.39 L557.70 118.95 L561.58 116.13 L565.46 118.95 L563.98 114.39 L567.86 111.57 L563.06 111.57Z M563.29 108.34 L561.81 112.91 L557.01 112.91 L560.89 115.72 L559.41 120.28 L563.29 117.47 L567.17 120.28 L565.69 115.72 L569.57 112.91 L564.77 112.91Z M564.94 109.86 L563.46 114.42 L558.66 114.42 L562.54 117.24 L561.06 121.80 L564.94 118.99 L568.82 121.80 L567.34 117.24 L571.21 114.42 L566.42 114.42Z M566.53 113.86 L565.05 118.42 L560.26 118.42 L564.13 121.23 L562.65 125.80 L566.53 122.98 L570.41 125.80 L568.93 121.23 L572.81 118.42 L568.01 118.42Z M568.08 116.00 L566.60 120.56 L561.80 120.56 L565.68 123.38 L564.20 127.94 L568.08 125.12 L571.96 127.94 L570.47 123.38 L574.35 120.56 L569.56 120.56Z M569.57 114.91 L568.09 119.47 L563.30 119.47 L567.18 122.29 L565.69 126.85 L569.57 124.03 L573.45 126.85 L571.97 122.29 L575.85 119.47 L571.06 119.47Z M571.03 117.21 L569.54 121.77 L564.75 121.77 L568.63 124.59 L567.15 129.15 L571.03 126.33 L574.91 129.15 L573.42 124.59 L577.30 121.77 L572.51 121.77Z M572.44 119.12 L570.95 123.68 L566.16 123.68 L570.04 126.50 L568.56 131.06 L572.44 128.24 L576.32 131.06 L574.83 126.50 L578.71 123.68 L573.92 123.68Z M573.81 123.57 L572.32 128.13 L567.53 128.13 L571.41 130.95 L569.93 135.51 L573.81 132.69 L577.69 135.51 L576.20 130.95 L580.08 128.13 L575.29 128.13Z M575.14 123.98 L573.66 128.54 L568.86 128.54 L572.74 131.36 L571.26 135.92 L575.14 133.10 L579.02 135.92 L577.54 131.36 L581.42 128.54 L576.62 128.54Z M576.44 125.76 L574.95 130.32 L570.16 130.32 L574.04 133.14 L572.56 137.70 L576.44 134.88 L580.32 137.70 L578.83 133.14 L582.71 130.32 L577.92 130.32Z M577.70 125.76 L576.22 130.32 L571.42 130.32 L575.30 133.14 L573.82 137.70 L577.70 134.88 L581.58 137.70 L580.10 133.14 L583.98 130.32 L579.18 130.32Z M578.93 128.80 L577.45 133.36 L572.65 133.36 L576.53 136.18 L575.05 140.74 L578.93 137.92 L582.81 140.74 L581.33 136.18 L585.21 133.36 L580.41 133.36Z M580.13 131.11 L578.65 135.67 L573.85 135.67 L577.73 138.49 L576.25 143.05 L580.13 140.23 L584.01 143.05 L582.53 138.49 L586.41 135.67 L581.61 135.67Z M581.30 132.95 L579.82 137.51 L575.03 137.51 L578.91 140.33 L577.42 144.89 L581.30 142.08 L585.18 144.89 L583.70 140.33 L587.58 137.51 L582.79 137.51Z M582.45 135.45 L580.97 140.01 L576.17 140.01 L580.05 142.82 L578.57 147.39 L582.45 144.57 L586.33 147.39 L584.85 142.82 L588.73 140.01 L583.93 140.01Z M583.57 135.51 L582.08 140.07 L577.29 140.07 L581.17 142.89 L579.69 147.45 L583.57 144.63 L587.45 147.45 L585.96 142.89 L589.84 140.07 L585.05 140.07Z M584.66 138.41 L583.18 142.97 L578.38 142.97 L582.26 145.79 L580.78 150.35 L584.66 147.53 L588.54 150.35 L587.06 145.79 L590.94 142.97 L586.14 142.97Z M585.73 140.24 L584.25 144.80 L579.45 144.80 L583.33 147.62 L581.85 152.18 L585.73 149.36 L589.61 152.18 L588.13 147.62 L592.01 144.80 L587.21 144.80Z M586.77 143.83 L585.29 148.39 L580.50 148.39 L584.38 151.21 L582.90 155.77 L586.77 152.95 L590.65 155.77 L589.17 151.21 L593.05 148.39 L588.26 148.39Z M587.80 148.18 L586.32 152.74 L581.52 152.74 L585.40 155.56 L583.92 160.12 L587.80 157.30 L591.68 160.12 L590.20 155.56 L594.08 152.74 L589.28 152.74Z M588.80 149.62 L587.32 154.18 L582.52 154.18 L586.40 157.00 L584.92 161.56 L588.80 158.75 L592.68 161.56 L591.20 157.00 L595.08 154.18 L590.28 154.18Z M589.78 151.79 L588.30 156.35 L583.51 156.35 L587.39 159.17 L585.91 163.73 L589.78 160.91 L593.66 163.73 L592.18 159.17 L596.06 156.35 L591.27 156.35Z M590.75 152.96 L589.27 157.52 L584.47 157.52 L588.35 160.34 L586.87 164.90 L590.75 162.08 L594.63 164.90 L593.15 160.34 L597.02 157.52 L592.23 157.52Z M591.69 154.09 L590.21 158.65 L585.42 158.65 L589.29 161.47 L587.81 166.03 L591.69 163.22 L595.57 166.03 L594.09 161.47 L597.97 158.65 L593.17 158.65Z M592.62 158.41 L591.14 162.97 L586.34 162.97 L590.22 165.79 L588.74 170.35 L592.62 167.53 L596.50 170.35 L595.02 165.79 L598.90 162.97 L594.10 162.97Z M593.53 160.46 L592.05 165.02 L587.25 165.02 L591.13 167.84 L589.65 172.40 L593.53 169.58 L597.41 172.40 L595.93 167.84 L599.81 165.02 L595.01 165.02Z M594.42 161.03 L592.94 165.59 L588.14 165.59 L592.02 168.40 L590.54 172.97 L594.42 170.15 L598.30 172.97 L596.82 168.40 L600.70 165.59 L595.90 165.59Z M595.30 163.95 L593.82 168.51 L589.02 168.51 L592.90 171.33 L591.42 175.89 L595.30 173.07 L599.18 175.89 L597.69 171.33 L601.57 168.51 L596.78 168.51Z M596.16 165.51 L594.68 170.07 L589.88 170.07 L593.76 172.89 L592.28 177.45 L596.16 174.63 L600.04 177.45 L598.56 172.89 L602.43 170.07 L597.64 170.07Z M597.00 164.32 L595.52 168.88 L590.73 168.88 L594.61 171.70 L593.12 176.26 L597.00 173.44 L600.88 176.26 L599.40 171.70 L603.28 168.88 L598.49 168.88Z M597.84 165.59 L596.35 170.15 L591.56 170.15 L595.44 172.97 L593.96 177.53 L597.84 174.71 L601.71 177.53 L600.23 172.97 L604.11 170.15 L599.32 170.15Z M598.65 167.86 L597.17 172.42 L592.38 172.42 L596.26 175.24 L594.77 179.80 L598.65 176.98 L602.53 179.80 L601.05 175.24 L604.93 172.42 L600.13 172.42Z M599.46 167.69 L597.98 172.25 L593.18 172.25 L597.06 175.07 L595.58 179.63 L599.46 176.81 L603.34 179.63 L601.85 175.07 L605.73 172.25 L600.94 172.25Z M600.25 169.72 L598.77 174.28 L593.97 174.28 L597.85 177.10 L596.37 181.66 L600.25 178.84 L604.13 181.66 L602.65 177.10 L606.52 174.28 L601.73 174.28Z M601.03 173.12 L599.54 177.68 L594.75 177.68 L598.63 180.50 L597.15 185.06 L601.03 182.25 L604.91 185.06 L603.42 180.50 L607.30 177.68 L602.51 177.68Z M601.79 173.56 L600.31 178.12 L595.52 178.12 L599.39 180.94 L597.91 185.50 L601.79 182.68 L605.67 185.50 L604.19 180.94 L608.07 178.12 L603.27 178.12Z M602.55 174.51 L601.06 179.07 L596.27 179.07 L600.15 181.89 L598.67 186.45 L602.55 183.63 L606.43 186.45 L604.94 181.89 L608.82 179.07 L604.03 179.07Z M603.29 175.55 L601.81 180.11 L597.01 180.11 L600.89 182.93 L599.41 187.49 L603.29 184.67 L607.17 187.49 L605.69 182.93 L609.57 180.11 L604.77 180.11Z M604.02 176.38 L602.54 180.94 L597.74 180.94 L601.62 183.75 L600.14 188.32 L604.02 185.50 L607.90 188.32 L606.42 183.75 L610.30 180.94 L605.50 180.94Z M604.74 176.71 L603.26 181.27 L598.46 181.27 L602.34 184.09 L600.86 188.65 L604.74 185.83 L608.62 188.65 L607.14 184.09 L611.02 181.27 L606.22 181.27Z M605.45 176.10 L603.97 180.66 L599.17 180.66 L603.05 183.48 L601.57 188.04 L605.45 185.22 L609.33 188.04 L607.85 183.48 L611.73 180.66 L606.93 180.66Z M606.15 178.92 L604.67 183.48 L599.87 183.48 L603.75 186.30 L602.27 190.86 L606.15 188.04 L610.03 190.86 L608.55 186.30 L612.43 183.48 L607.63 183.48Z M606.84 180.20 L605.36 184.76 L600.56 184.76 L604.44 187.58 L602.96 192.14 L606.84 189.32 L610.72 192.14 L609.24 187.58 L613.12 184.76 L608.32 184.76Z M607.52 181.52 L606.04 186.08 L601.24 186.08 L605.12 188.90 L603.64 193.46 L607.52 190.64 L611.40 193.46 L609.92 188.90 L613.80 186.08 L609.00 186.08Z M608.19 182.61 L606.71 187.17 L601.92 187.17 L605.79 189.99 L604.31 194.55 L608.19 191.73 L612.07 194.55 L610.59 189.99 L614.47 187.17 L609.67 187.17Z M608.85 184.93 L607.37 189.49 L602.58 189.49 L606.46 192.31 L604.97 196.87 L608.85 194.05 L612.73 196.87 L611.25 192.31 L615.13 189.49 L610.34 189.49Z M609.51 186.80 L608.03 191.36 L603.23 191.36 L607.11 194.18 L605.63 198.74 L609.51 195.92 L613.39 198.74 L611.90 194.18 L615.78 191.36 L610.99 191.36Z M610.15 186.59 L608.67 191.15 L603.87 191.15 L607.75 193.97 L606.27 198.53 L610.15 195.71 L614.03 198.53 L612.55 193.97 L616.43 191.15 L611.63 191.15Z M610.79 186.98 L609.31 191.54 L604.51 191.54 L608.39 194.36 L606.91 198.92 L610.79 196.10 L614.67 198.92 L613.18 194.36 L617.06 191.54 L612.27 191.54Z M611.41 187.59 L609.93 192.15 L605.14 192.15 L609.02 194.97 L607.54 199.53 L611.41 196.71 L615.29 199.53 L613.81 194.97 L617.69 192.15 L612.90 192.15Z M612.03 189.55 L610.55 194.11 L605.76 194.11 L609.64 196.93 L608.15 201.49 L612.03 198.67 L615.91 201.49 L614.43 196.93 L618.31 194.11 L613.52 194.11Z M612.65 189.70 L611.16 194.26 L606.37 194.26 L610.25 197.08 L608.77 201.64 L612.65 198.82 L616.53 201.64 L615.04 197.08 L618.92 194.26 L614.13 194.26Z M613.25 190.64 L611.77 195.20 L606.97 195.20 L610.85 198.02 L609.37 202.58 L613.25 199.76 L617.13 202.58 L615.65 198.02 L619.53 195.20 L614.73 195.20Z M613.85 191.76 L612.37 196.33 L607.57 196.33 L611.45 199.14 L609.97 203.70 L613.85 200.89 L617.73 203.70 L616.24 199.14 L620.12 196.33 L615.33 196.33Z M614.44 194.56 L612.95 199.12 L608.16 199.12 L612.04 201.94 L610.56 206.50 L614.44 203.68 L618.32 206.50 L616.83 201.94 L620.71 199.12 L615.92 199.12Z M615.02 196.29 L613.54 200.85 L608.74 200.85 L612.62 203.67 L611.14 208.23 L615.02 205.41 L618.90 208.23 L617.42 203.67 L621.30 200.85 L616.50 200.85Z M615.59 196.83 L614.11 201.39 L609.32 201.39 L613.20 204.21 L611.72 208.77 L615.59 205.95 L619.47 208.77 L617.99 204.21 L621.87 201.39 L617.08 201.39Z M616.16 197.22 L614.68 201.78 L609.89 201.78 L613.77 204.60 L612.28 209.16 L616.16 206.34 L620.04 209.16 L618.56 204.60 L622.44 201.78 L617.65 201.78Z M616.73 197.75 L615.24 202.31 L610.45 202.31 L614.33 205.13 L612.85 209.69 L616.73 206.87 L620.61 209.69 L619.12 205.13 L623.00 202.31 L618.21 202.31Z M617.28 199.46 L615.80 204.02 L611.01 204.02 L614.88 206.84 L613.40 211.40 L617.28 208.58 L621.16 211.40 L619.68 206.84 L623.56 204.02 L618.76 204.02Z M617.83 199.07 L616.35 203.63 L611.55 203.63 L615.43 206.45 L613.95 211.01 L617.83 208.19 L621.71 211.01 L620.23 206.45 L624.11 203.63 L619.31 203.63Z M618.38 199.46 L616.89 204.02 L612.10 204.02 L615.98 206.84 L614.50 211.40 L618.38 208.58 L622.25 211.40 L620.77 206.84 L624.65 204.02 L619.86 204.02Z M618.91 198.37 L617.43 202.93 L612.64 202.93 L616.52 205.75 L615.03 210.31 L618.91 207.49 L622.79 210.31 L621.31 205.75 L625.19 202.93 L620.39 202.93Z M619.44 199.88 L617.96 204.44 L613.17 204.44 L617.05 207.26 L615.56 211.82 L619.44 209.00 L623.32 211.82 L621.84 207.26 L625.72 204.44 L620.93 204.44Z M619.97 200.99 L618.49 205.55 L613.69 205.55 L617.57 208.36 L616.09 212.93 L619.97 210.11 L623.85 212.93 L622.37 208.36 L626.25 205.55 L621.45 205.55Z M620.49 202.21 L619.01 206.77 L614.21 206.77 L618.09 209.59 L616.61 214.15 L620.49 211.34 L624.37 214.15 L622.89 209.59 L626.77 206.77 L621.97 206.77Z M621.01 203.17 L619.52 207.73 L614.73 207.73 L618.61 210.55 L617.13 215.11 L621.01 212.30 L624.88 215.11 L623.40 210.55 L627.28 207.73 L622.49 207.73Z M621.51 202.99 L620.03 207.55 L615.24 207.55 L619.12 210.37 L617.63 214.93 L621.51 212.11 L625.39 214.93 L623.91 210.37 L627.79 207.55 L623.00 207.55Z M622.02 205.01 L620.54 209.57 L615.74 209.57 L619.62 212.39 L618.14 216.95 L622.02 214.13 L625.90 216.95 L624.42 212.39 L628.30 209.57 L623.50 209.57Z M622.52 205.98 L621.04 210.54 L616.24 210.54 L620.12 213.36 L618.64 217.92 L622.52 215.10 L626.40 217.92 L624.91 213.36 L628.79 210.54 L624.00 210.54Z M623.01 207.59 L621.53 212.15 L616.73 212.15 L620.61 214.97 L619.13 219.53 L623.01 216.71 L626.89 219.53 L625.41 214.97 L629.29 212.15 L624.49 212.15Z M623.50 208.14 L622.02 212.70 L617.22 212.70 L621.10 215.52 L619.62 220.08 L623.50 217.26 L627.38 220.08 L625.90 215.52 L629.78 212.70 L624.98 212.70Z M623.98 207.17 L622.50 211.73 L617.71 211.73 L621.59 214.55 L620.10 219.11 L623.98 216.29 L627.86 219.11 L626.38 214.55 L630.26 211.73 L625.47 211.73Z M624.46 207.87 L622.98 212.43 L618.19 212.43 L622.07 215.25 L620.58 219.81 L624.46 216.99 L628.34 219.81 L626.86 215.25 L630.74 212.43 L625.95 212.43Z M624.94 207.78 L623.46 212.34 L618.66 212.34 L622.54 215.16 L621.06 219.72 L624.94 216.90 L628.82 219.72 L627.34 215.16 L631.21 212.34 L626.42 212.34Z M625.41 208.77 L623.93 213.33 L619.13 213.33 L623.01 216.15 L621.53 220.71 L625.41 217.89 L629.29 220.71 L627.81 216.15 L631.68 213.33 L626.89 213.33Z M625.87 209.88 L624.39 214.44 L619.60 214.44 L623.48 217.26 L621.99 221.82 L625.87 219.00 L629.75 221.82 L628.27 217.26 L632.15 214.44 L627.35 214.44Z M626.33 209.16 L624.85 213.72 L620.06 213.72 L623.94 216.54 L622.45 221.10 L626.33 218.28 L630.21 221.10 L628.73 216.54 L632.61 213.72 L627.82 213.72Z M626.79 209.78 L625.31 214.34 L620.51 214.34 L624.39 217.16 L622.91 221.72 L626.79 218.90 L630.67 221.72 L629.19 217.16 L633.07 214.34 L628.27 214.34Z M627.24 210.27 L625.76 214.83 L620.97 214.83 L624.85 217.65 L623.36 222.21 L627.24 219.39 L631.12 222.21 L629.64 217.65 L633.52 214.83 L628.73 214.83Z M627.69 211.04 L626.21 215.60 L621.41 215.60 L625.29 218.42 L623.81 222.98 L627.69 220.16 L631.57 222.98 L630.09 218.42 L633.97 215.60 L629.17 215.60Z M628.14 213.52 L626.65 218.08 L621.86 218.08 L625.74 220.90 L624.26 225.46 L628.14 222.64 L632.02 225.46 L630.53 220.90 L634.41 218.08 L629.62 218.08Z M628.58 214.42 L627.09 218.98 L622.30 218.98 L626.18 221.80 L624.70 226.36 L628.58 223.54 L632.46 226.36 L630.97 221.80 L634.85 218.98 L630.06 218.98Z M629.01 214.89 L627.53 219.45 L622.74 219.45 L626.61 222.27 L625.13 226.83 L629.01 224.01 L632.89 226.83 L631.41 222.27 L635.29 219.45 L630.49 219.45Z M629.44 215.90 L627.96 220.46 L623.17 220.46 L627.05 223.28 L625.57 227.84 L629.44 225.02 L633.32 227.84 L631.84 223.28 L635.72 220.46 L630.93 220.46Z M629.87 215.64 L628.39 220.20 L623.60 220.20 L627.48 223.02 L625.99 227.58 L629.87 224.77 L633.75 227.58 L632.27 223.02 L636.15 220.20 L631.36 220.20Z M630.30 216.47 L628.82 221.03 L624.02 221.03 L627.90 223.85 L626.42 228.41 L630.30 225.59 L634.18 228.41 L632.70 223.85 L636.58 221.03 L631.78 221.03Z M630.72 218.14 L629.24 222.70 L624.44 222.70 L628.32 225.52 L626.84 230.08 L630.72 227.26 L634.60 230.08 L633.12 225.52 L637.00 222.70 L632.20 222.70Z M631.14 218.20 L629.66 222.76 L624.86 222.76 L628.74 225.57 L627.26 230.13 L631.14 227.32 L635.02 230.13 L633.53 225.57 L637.41 222.76 L632.62 222.76Z M631.55 218.46 L630.07 223.02 L625.27 223.02 L629.15 225.84 L627.67 230.40 L631.55 227.58 L635.43 230.40 L633.95 225.84 L637.83 223.02 L633.03 223.02Z M631.96 218.72 L630.48 223.28 L625.68 223.28 L629.56 226.09 L628.08 230.65 L631.96 227.84 L635.84 230.65 L634.36 226.09 L638.24 223.28 L633.44 223.28Z M632.37 217.84 L630.89 222.40 L626.09 222.40 L629.97 225.22 L628.49 229.78 L632.37 226.96 L636.25 229.78 L634.77 225.22 L638.65 222.40 L633.85 222.40Z M632.77 218.24 L631.29 222.80 L626.49 222.80 L630.37 225.62 L628.89 230.18 L632.77 227.36 L636.65 230.18 L635.17 225.62 L639.05 222.80 L634.25 222.80Z M633.17 219.78 L631.69 224.34 L626.90 224.34 L630.77 227.16 L629.29 231.72 L633.17 228.90 L637.05 231.72 L635.57 227.16 L639.45 224.34 L634.65 224.34Z M633.57 220.38 L632.09 224.94 L627.29 224.94 L631.17 227.76 L629.69 232.32 L633.57 229.50 L637.45 232.32 L635.97 227.76 L639.85 224.94 L635.05 224.94Z M633.96 221.46 L632.48 226.02 L627.69 226.02 L631.57 228.84 L630.08 233.40 L633.96 230.58 L637.84 233.40 L636.36 228.84 L640.24 226.02 L635.45 226.02Z M634.35 222.91 L632.87 227.47 L628.08 227.47 L631.96 230.28 L630.47 234.84 L634.35 232.03 L638.23 234.84 L636.75 230.28 L640.63 227.47 L635.84 227.47Z M634.74 222.87 L633.26 227.43 L628.46 227.43 L632.34 230.25 L630.86 234.81 L634.74 231.99 L638.62 234.81 L637.14 230.25 L641.02 227.43 L636.22 227.43Z M635.13 223.17 L633.64 227.73 L628.85 227.73 L632.73 230.55 L631.25 235.11 L635.13 232.29 L639.01 235.11 L637.52 230.55 L641.40 227.73 L636.61 227.73Z M635.51 224.87 L634.03 229.43 L629.23 229.43 L633.11 232.25 L631.63 236.81 L635.51 233.99 L639.39 236.81 L637.91 232.25 L641.78 229.43 L636.99 229.43Z M635.89 226.02 L634.40 230.58 L629.61 230.58 L633.49 233.40 L632.01 237.96 L635.89 235.14 L639.77 237.96 L638.28 233.40 L642.16 230.58 L637.37 230.58Z M636.26 227.01 L634.78 231.57 L629.98 231.57 L633.86 234.39 L632.38 238.95 L636.26 236.13 L640.14 238.95 L638.66 234.39 L642.54 231.57 L637.74 231.57Z M636.63 228.87 L635.15 233.43 L630.36 233.43 L634.24 236.25 L632.76 240.81 L636.63 237.99 L640.51 240.81 L639.03 236.25 L642.91 233.43 L638.12 233.43Z M637.00 229.69 L635.52 234.25 L630.73 234.25 L634.61 237.07 L633.12 241.63 L637.00 238.81 L640.88 241.63 L639.40 237.07 L643.28 234.25 L638.49 234.25Z M637.37 229.17 L635.89 233.73 L631.09 233.73 L634.97 236.55 L633.49 241.11 L637.37 238.29 L641.25 241.11 L639.77 236.55 L643.65 233.73 L638.85 233.73Z M637.74 229.44 L636.25 234.00 L631.46 234.00 L635.34 236.82 L633.86 241.38 L637.74 238.56 L641.62 241.38 L640.13 236.82 L644.01 234.00 L639.22 234.00Z M638.10 230.15 L636.62 234.71 L631.82 234.71 L635.70 237.53 L634.22 242.09 L638.10 239.27 L641.98 242.09 L640.49 237.53 L644.37 234.71 L639.58 234.71Z M638.46 230.11 L636.97 234.67 L632.18 234.67 L636.06 237.49 L634.58 242.05 L638.46 239.23 L642.34 242.05 L640.85 237.49 L644.73 234.67 L639.94 234.67Z M638.81 230.65 L637.33 235.21 L632.54 235.21 L636.42 238.03 L634.93 242.59 L638.81 239.77 L642.69 242.59 L641.21 238.03 L645.09 235.21 L640.29 235.21Z M639.17 232.12 L637.68 236.68 L632.89 236.68 L636.77 239.50 L635.29 244.06 L639.17 241.25 L643.05 244.06 L641.56 239.50 L645.44 236.68 L640.65 236.68Z M639.52 232.43 L638.04 236.99 L633.24 236.99 L637.12 239.81 L635.64 244.37 L639.52 241.55 L643.40 244.37 L641.92 239.81 L645.79 236.99 L641.00 236.99Z M639.87 231.82 L638.38 236.38 L633.59 236.38 L637.47 239.20 L635.99 243.76 L639.87 240.94 L643.75 243.76 L642.26 239.20 L646.14 236.38 L641.35 236.38Z M640.21 232.02 L638.73 236.58 L633.94 236.58 L637.81 239.40 L636.33 243.96 L640.21 241.14 L644.09 243.96 L642.61 239.40 L646.49 236.58 L641.69 236.58Z M640.56 232.53 L639.07 237.09 L634.28 237.09 L638.16 239.91 L636.68 244.47 L640.56 241.65 L644.44 244.47 L642.95 239.91 L646.83 237.09 L642.04 237.09Z M640.90 232.41 L639.42 236.97 L634.62 236.97 L638.50 239.79 L637.02 244.35 L640.90 241.53 L644.78 244.35 L643.30 239.79 L647.17 236.97 L642.38 236.97Z M641.24 232.95 L639.75 237.51 L634.96 237.51 L638.84 240.33 L637.36 244.89 L641.24 242.07 L645.12 244.89 L643.63 240.33 L647.51 237.51 L642.72 237.51Z M641.57 234.76 L640.09 239.32 L635.30 239.32 L639.18 242.14 L637.69 246.70 L641.57 243.88 L645.45 246.70 L643.97 242.14 L647.85 239.32 L643.06 239.32Z M641.91 236.13 L640.43 240.69 L635.63 240.69 L639.51 243.51 L638.03 248.07 L641.91 245.25 L645.79 248.07 L644.31 243.51 L648.18 240.69 L643.39 240.69Z M642.24 236.44 L640.76 241.00 L635.96 241.00 L639.84 243.82 L638.36 248.38 L642.24 245.56 L646.12 248.38 L644.64 243.82 L648.52 241.00 L643.72 241.00Z M642.57 237.05 L641.09 241.61 L636.29 241.61 L640.17 244.43 L638.69 248.99 L642.57 246.17 L646.45 248.99 L644.97 244.43 L648.85 241.61 L644.05 241.61Z M642.90 238.02 L641.42 242.58 L636.62 242.58 L640.50 245.40 L639.02 249.96 L642.90 247.14 L646.78 249.96 L645.29 245.40 L649.17 242.58 L644.38 242.58Z M643.22 238.14 L641.74 242.71 L636.95 242.71 L640.82 245.52 L639.34 250.08 L643.22 247.27 L647.10 250.08 L645.62 245.52 L649.50 242.71 L644.70 242.71Z M643.55 237.94 L642.06 242.51 L637.27 242.51 L641.15 245.32 L639.67 249.88 L643.55 247.07 L647.42 249.88 L645.94 245.32 L649.82 242.51 L645.03 242.51Z M643.87 238.85 L642.38 243.41 L637.59 243.41 L641.47 246.23 L639.99 250.79 L643.87 247.97 L647.75 250.79 L646.26 246.23 L650.14 243.41 L645.35 243.41Z M644.19 240.29 L642.70 244.85 L637.91 244.85 L641.79 247.67 L640.31 252.23 L644.19 249.41 L648.06 252.23 L646.58 247.67 L650.46 244.85 L645.67 244.85Z M644.50 240.83 L643.02 245.39 L638.23 245.39 L642.10 248.21 L640.62 252.77 L644.50 249.95 L648.38 252.77 L646.90 248.21 L650.78 245.39 L645.98 245.39Z M644.82 240.86 L643.34 245.42 L638.54 245.42 L642.42 248.24 L640.94 252.80 L644.82 249.98 L648.70 252.80 L647.21 248.24 L651.09 245.42 L646.30 245.42Z M645.13 241.39 L643.65 245.95 L638.85 245.95 L642.73 248.77 L641.25 253.33 L645.13 250.51 L649.01 253.33 L647.53 248.77 L651.41 245.95 L646.61 245.95Z M645.44 241.77 L643.96 246.33 L639.16 246.33 L643.04 249.15 L641.56 253.71 L645.44 250.89 L649.32 253.71 L647.84 249.15 L651.72 246.33 L646.92 246.33Z M645.75 241.12 L644.27 245.68 L639.47 245.68 L643.35 248.50 L641.87 253.06 L645.75 250.24 L649.63 253.06 L648.15 248.50 L652.03 245.68 L647.23 245.68Z M646.06 240.36 L644.57 244.92 L639.78 244.92 L643.66 247.74 L642.18 252.30 L646.06 249.48 L649.94 252.30 L648.45 247.74 L652.33 244.92 L647.54 244.92Z M646.36 240.73 L644.88 245.29 L640.08 245.29 L643.96 248.11 L642.48 252.67 L646.36 249.86 L650.24 252.67 L648.76 248.11 L652.64 245.29 L647.84 245.29Z M646.66 241.65 L645.18 246.21 L640.39 246.21 L644.27 249.03 L642.79 253.59 L646.66 250.77 L650.54 253.59 L649.06 249.03 L652.94 246.21 L648.15 246.21Z M646.97 242.01 L645.48 246.57 L640.69 246.57 L644.57 249.39 L643.09 253.95 L646.97 251.13 L650.85 253.95 L649.36 249.39 L653.24 246.57 L648.45 246.57Z M647.27 242.23 L645.78 246.79 L640.99 246.79 L644.87 249.61 L643.39 254.17 L647.27 251.35 L651.14 254.17 L649.66 249.61 L653.54 246.79 L648.75 246.79Z M647.56 243.14 L646.08 247.70 L641.29 247.70 L645.16 250.52 L643.68 255.08 L647.56 252.26 L651.44 255.08 L649.96 250.52 L653.84 247.70 L649.04 247.70Z M647.86 244.16 L646.38 248.72 L641.58 248.72 L645.46 251.54 L643.98 256.10 L647.86 253.28 L651.74 256.10 L650.26 251.54 L654.14 248.72 L649.34 248.72Z M648.15 244.24 L646.67 248.80 L641.88 248.80 L645.75 251.62 L644.27 256.18 L648.15 253.36 L652.03 256.18 L650.55 251.62 L654.43 248.80 L649.63 248.80Z M648.44 243.83 L646.96 248.39 L642.17 248.39 L646.05 251.21 L644.56 255.77 L648.44 252.96 L652.32 255.77 L650.84 251.21 L654.72 248.39 L649.93 248.39Z M648.73 244.19 L647.25 248.75 L642.46 248.75 L646.34 251.57 L644.86 256.13 L648.73 253.31 L652.61 256.13 L651.13 251.57 L655.01 248.75 L650.22 248.75Z M649.02 245.29 L647.54 249.85 L642.75 249.85 L646.63 252.67 L645.14 257.23 L649.02 254.41 L652.90 257.23 L651.42 252.67 L655.30 249.85 L650.51 249.85Z M649.31 246.13 L647.83 250.69 L643.03 250.69 L646.91 253.51 L645.43 258.07 L649.31 255.25 L653.19 258.07 L651.71 253.51 L655.59 250.69 L650.79 250.69Z M649.60 246.58 L648.11 251.14 L643.32 251.14 L647.20 253.96 L645.72 258.52 L649.60 255.70 L653.47 258.52 L651.99 253.96 L655.87 251.14 L651.08 251.14Z M649.88 247.83 L648.40 252.39 L643.60 252.39 L647.48 255.21 L646.00 259.77 L649.88 256.95 L653.76 259.77 L652.28 255.21 L656.16 252.39 L651.36 252.39Z M650.16 249.65 L648.68 254.21 L643.88 254.21 L647.76 257.03 L646.28 261.59 L650.16 258.77 L654.04 261.59 L652.56 257.03 L656.44 254.21 L651.64 254.21Z M650.44 250.97 L648.96 255.53 L644.16 255.53 L648.04 258.34 L646.56 262.91 L650.44 260.09 L654.32 262.91 L652.84 258.34 L656.72 255.53 L651.92 255.53Z M650.72 251.21 L649.24 255.77 L644.44 255.77 L648.32 258.59 L646.84 263.15 L650.72 260.33 L654.60 263.15 L653.12 258.59 L657.00 255.77 L652.20 255.77Z M651.00 251.19 L649.52 255.75 L644.72 255.75 L648.60 258.57 L647.12 263.13 L651.00 260.31 L654.88 263.13 L653.40 258.57 L657.27 255.75 L652.48 255.75Z M651.27 251.77 L649.79 256.33 L645.00 256.33 L648.88 259.15 L647.39 263.71 L651.27 260.89 L655.15 263.71 L653.67 259.15 L657.55 256.33 L652.75 256.33Z M651.55 252.60 L650.07 257.16 L645.27 257.16 L649.15 259.98 L647.67 264.54 L651.55 261.72 L655.43 264.54 L653.94 259.98 L657.82 257.16 L653.03 257.16Z M651.82 252.95 L650.34 257.51 L645.54 257.51 L649.42 260.33 L647.94 264.89 L651.82 262.07 L655.70 264.89 L654.22 260.33 L658.10 257.51 L653.30 257.51Z M652.09 253.05 L650.61 257.61 L645.81 257.61 L649.69 260.43 L648.21 264.99 L652.09 262.17 L655.97 264.99 L654.49 260.43 L658.37 257.61 L653.57 257.61Z M652.36 253.76 L650.88 258.32 L646.08 258.32 L649.96 261.14 L648.48 265.70 L652.36 262.88 L656.24 265.70 L654.76 261.14 L658.64 258.32 L653.84 258.32Z M652.63 255.12 L651.15 259.68 L646.35 259.68 L650.23 262.50 L648.75 267.06 L652.63 264.24 L656.51 267.06 L655.03 262.50 L658.90 259.68 L654.11 259.68Z M652.89 256.17 L651.41 260.73 L646.62 260.73 L650.50 263.55 L649.02 268.11 L652.89 265.29 L656.77 268.11 L655.29 263.55 L659.17 260.73 L654.38 260.73Z M653.16 256.34 L651.68 260.90 L646.88 260.90 L650.76 263.72 L649.28 268.28 L653.16 265.46 L657.04 268.28 L655.56 263.72 L659.44 260.90 L654.64 260.90Z M653.42 256.21 L651.94 260.77 L647.15 260.77 L651.03 263.59 L649.54 268.15 L653.42 265.33 L657.30 268.15 L655.82 263.59 L659.70 260.77 L654.91 260.77Z M653.69 256.56 L652.20 261.12 L647.41 261.12 L651.29 263.94 L649.81 268.50 L653.69 265.68 L657.56 268.50 L656.08 263.94 L659.96 261.12 L655.17 261.12Z M653.95 257.24 L652.46 261.81 L647.67 261.81 L651.55 264.62 L650.07 269.18 L653.95 266.37 L657.83 269.18 L656.34 264.62 L660.22 261.81 L655.43 261.81Z M654.21 257.58 L652.72 262.14 L647.93 262.14 L651.81 264.96 L650.33 269.52 L654.21 266.70 L658.09 269.52 L656.60 264.96 L660.48 262.14 L655.69 262.14Z M654.46 257.57 L652.98 262.13 L648.19 262.13 L652.07 264.94 L650.58 269.50 L654.46 266.69 L658.34 269.50 L656.86 264.94 L660.74 262.13 L655.95 262.13Z M654.72 257.99 L653.24 262.55 L648.44 262.55 L652.32 265.37 L650.84 269.93 L654.72 267.11 L658.60 269.93 L657.12 265.37 L661.00 262.55 L656.20 262.55Z M654.98 258.95 L653.49 263.51 L648.70 263.51 L652.58 266.33 L651.10 270.89 L654.98 268.07 L658.86 270.89 L657.37 266.33 L661.25 263.51 L656.46 263.51Z M655.23 260.24 L653.75 264.80 L648.95 264.80 L652.83 267.62 L651.35 272.18 L655.23 269.36 L659.11 272.18 L657.63 267.62 L661.51 264.80 L656.71 264.80Z M655.48 261.01 L654.00 265.57 L649.21 265.57 L653.08 268.39 L651.60 272.95 L655.48 270.13 L659.36 272.95 L657.88 268.39 L661.76 265.57 L656.96 265.57Z M655.73 261.22 L654.25 265.78 L649.46 265.78 L653.34 268.60 L651.85 273.16 L655.73 270.34 L659.61 273.16 L658.13 268.60 L662.01 265.78 L657.22 265.78Z M655.98 261.52 L654.50 266.08 L649.71 266.08 L653.59 268.90 L652.10 273.46 L655.98 270.64 L659.86 273.46 L658.38 268.90 L662.26 266.08 L657.47 266.08Z M656.23 262.24 L654.75 266.80 L649.96 266.80 L653.84 269.62 L652.35 274.18 L656.23 271.36 L660.11 274.18 L658.63 269.62 L662.51 266.80 L657.71 266.80Z M656.48 262.91 L655.00 267.47 L650.20 267.47 L654.08 270.29 L652.60 274.85 L656.48 272.03 L660.36 274.85 L658.88 270.29 L662.76 267.47 L657.96 267.47Z M656.73 262.97 L655.24 267.53 L650.45 267.53 L654.33 270.35 L652.85 274.91 L656.73 272.09 L660.61 274.91 L659.12 270.35 L663.00 267.53 L658.21 267.53Z M656.97 262.66 L655.49 267.22 L650.69 267.22 L654.57 270.04 L653.09 274.60 L656.97 271.78 L660.85 274.60 L659.37 270.04 L663.25 267.22 L658.45 267.22Z M657.22 262.75 L655.73 267.31 L650.94 267.31 L654.82 270.13 L653.34 274.69 L657.22 271.87 L661.09 274.69 L659.61 270.13 L663.49 267.31 L658.70 267.31Z M657.46 263.59 L655.98 268.15 L651.18 268.15 L655.06 270.97 L653.58 275.53 L657.46 272.71 L661.34 275.53 L659.86 270.97 L663.73 268.15 L658.94 268.15Z M657.70 264.67 L656.22 269.23 L651.42 269.23 L655.30 272.05 L653.82 276.61 L657.70 273.79 L661.58 276.61 L660.10 272.05 L663.98 269.23 L659.18 269.23Z M657.94 265.29 L656.46 269.85 L651.66 269.85 L655.54 272.67 L654.06 277.23 L657.94 274.41 L661.82 277.23 L660.34 272.67 L664.22 269.85 L659.42 269.85Z M658.18 265.41 L656.70 269.97 L651.90 269.97 L655.78 272.79 L654.30 277.35 L658.18 274.53 L662.06 277.35 L660.58 272.79 L664.46 269.97 L659.66 269.97Z M658.42 265.57 L656.93 270.13 L652.14 270.13 L656.02 272.95 L654.54 277.51 L658.42 274.69 L662.30 277.51 L660.81 272.95 L664.69 270.13 L659.90 270.13Z M658.65 265.89 L657.17 270.45 L652.38 270.45 L656.26 273.27 L654.77 277.83 L658.65 275.01 L662.53 277.83 L661.05 273.27 L664.93 270.45 L660.13 270.45Z M658.89 266.19 L657.41 270.75 L652.61 270.75 L656.49 273.57 L655.01 278.13 L658.89 275.31 L662.77 278.13 L661.29 273.57 L665.17 270.75 L660.37 270.75Z M659.12 265.88 L657.64 270.44 L652.85 270.44 L656.73 273.26 L655.24 277.82 L659.12 275.01 L663.00 277.82 L661.52 273.26 L665.40 270.44 L660.60 270.44Z M659.36 264.99 L657.87 269.55 L653.08 269.55 L656.96 272.36 L655.48 276.93 L659.36 274.11 L663.24 276.93 L661.75 272.36 L665.63 269.55 L660.84 269.55Z M659.59 264.14 L658.11 268.70 L653.31 268.70 L657.19 271.52 L655.71 276.08 L659.59 273.26 L663.47 276.08 L661.99 271.52 L665.87 268.70 L661.07 268.70Z M659.82 263.92 L658.34 268.48 L653.54 268.48 L657.42 271.30 L655.94 275.86 L659.82 273.04 L663.70 275.86 L662.22 271.30 L666.10 268.48 L661.30 268.48Z M660.05 264.22 L658.57 268.78 L653.77 268.78 L657.65 271.60 L656.17 276.16 L660.05 273.34 L663.93 276.16 L662.45 271.60 L666.33 268.78 L661.53 268.78Z M660.28 264.47 L658.80 269.03 L654.00 269.03 L657.88 271.85 L656.40 276.41 L660.28 273.60 L664.16 276.41 L662.68 271.85 L666.56 269.03 L661.76 269.03Z M660.51 264.36 L659.02 268.92 L654.23 268.92 L658.11 271.73 L656.63 276.30 L660.51 273.48 L664.39 276.30 L662.90 271.73 L666.78 268.92 L661.99 268.92Z M660.73 264.15 L659.25 268.71 L654.46 268.71 L658.34 271.53 L656.85 276.09 L660.73 273.27 L664.61 276.09 L663.13 271.53 L667.01 268.71 L662.21 268.71Z M660.96 264.33 L659.48 268.89 L654.68 268.89 L658.56 271.71 L657.08 276.27 L660.96 273.45 L664.84 276.27 L663.36 271.71 L667.24 268.89 L662.44 268.89Z M661.18 264.93 L659.70 269.49 L654.91 269.49 L658.79 272.30 L657.30 276.86 L661.18 274.05 L665.06 276.86 L663.58 272.30 L667.46 269.49 L662.67 269.49Z M661.41 265.42 L659.93 269.98 L655.13 269.98 L659.01 272.80 L657.53 277.36 L661.41 274.54 L665.29 277.36 L663.80 272.80 L667.68 269.98 L662.89 269.98Z M661.63 265.33 L660.15 269.89 L655.35 269.89 L659.23 272.71 L657.75 277.27 L661.63 274.45 L665.51 277.27 L664.03 272.71 L667.91 269.89 L663.11 269.89Z M661.85 264.75 L660.37 269.31 L655.57 269.31 L659.45 272.13 L657.97 276.69 L661.85 273.87 L665.73 276.69 L664.25 272.13 L668.13 269.31 L663.33 269.31Z M662.07 264.27 L660.59 268.83 L655.79 268.83 L659.67 271.65 L658.19 276.21 L662.07 273.39 L665.95 276.21 L664.47 271.65 L668.35 268.83 L663.55 268.83Z M662.29 264.32 L660.81 268.88 L656.01 268.88 L659.89 271.70 L658.41 276.26 L662.29 273.44 L666.17 276.26 L664.69 271.70 L668.57 268.88 L663.77 268.88Z M662.51 264.80 L661.03 269.37 L656.23 269.37 L660.11 272.18 L658.63 276.74 L662.51 273.93 L666.39 276.74 L664.91 272.18 L668.79 269.37 L663.99 269.37Z M662.73 265.24 L661.25 269.81 L656.45 269.81 L660.33 272.62 L658.85 277.18 L662.73 274.37 L666.61 277.18 L665.13 272.62 L669.00 269.81 L664.21 269.81Z M662.94 265.38 L661.46 269.94 L656.67 269.94 L660.55 272.75 L659.07 277.32 L662.94 274.50 L666.82 277.32 L665.34 272.75 L669.22 269.94 L664.43 269.94Z M663.16 265.43 L661.68 269.99 L656.88 269.99 L660.76 272.81 L659.28 277.37 L663.16 274.55 L667.04 277.37 L665.56 272.81 L669.44 269.99 L664.64 269.99Z M663.37 265.85 L661.89 270.41 L657.10 270.41 L660.98 273.23 L659.50 277.79 L663.37 274.97 L667.25 277.79 L665.77 273.23 L669.65 270.41 L664.86 270.41Z M663.59 266.74 L662.11 271.30 L657.31 271.30 L661.19 274.12 L659.71 278.68 L663.59 275.86 L667.47 278.68 L665.99 274.12 L669.87 271.30 L665.07 271.30Z M663.80 267.70 L662.32 272.26 L657.52 272.26 L661.40 275.08 L659.92 279.64 L663.80 276.82 L667.68 279.64 L666.20 275.08 L670.08 272.26 L665.28 272.26Z M664.01 268.19 L662.53 272.75 L657.74 272.75 L661.62 275.57 L660.13 280.13 L664.01 277.31 L667.89 280.13 L666.41 275.57 L670.29 272.75 L665.50 272.75Z M664.22 268.41 L662.74 272.97 L657.95 272.97 L661.83 275.79 L660.35 280.35 L664.22 277.53 L668.10 280.35 L666.62 275.79 L670.50 272.97 L665.71 272.97Z M664.43 268.34 L662.95 272.90 L658.16 272.90 L662.04 275.72 L660.56 280.28 L664.43 277.46 L668.31 280.28 L666.83 275.72 L670.71 272.90 L665.92 272.90Z M664.64 268.47 L663.16 273.03 L658.37 273.03 L662.25 275.85 L660.76 280.41 L664.64 277.59 L668.52 280.41 L667.04 275.85 L670.92 273.03 L666.13 273.03Z M664.85 268.95 L663.37 273.52 L658.58 273.52 L662.45 276.33 L660.97 280.89 L664.85 278.08 L668.73 280.89 L667.25 276.33 L671.13 273.52 L666.33 273.52Z M665.06 269.51 L663.58 274.07 L658.78 274.07 L662.66 276.88 L661.18 281.44 L665.06 278.63 L668.94 281.44 L667.46 276.88 L671.34 274.07 L666.54 274.07Z M665.27 269.76 L663.78 274.32 L658.99 274.32 L662.87 277.14 L661.39 281.70 L665.27 278.88 L669.15 281.70 L667.66 277.14 L671.54 274.32 L666.75 274.32Z M665.47 269.70 L663.99 274.27 L659.19 274.27 L663.07 277.08 L661.59 281.64 L665.47 278.83 L669.35 281.64 L667.87 277.08 L671.75 274.27 L666.95 274.27Z M665.68 269.69 L664.19 274.25 L659.40 274.25 L663.28 277.07 L661.80 281.63 L665.68 278.81 L669.56 281.63 L668.07 277.07 L671.95 274.25 L667.16 274.25Z M665.88 270.10 L664.40 274.66 L659.60 274.66 L663.48 277.48 L662.00 282.04 L665.88 279.22 L669.76 282.04 L668.28 277.48 L672.16 274.66 L667.36 274.66Z M666.08 270.97 L664.60 275.53 L659.81 275.53 L663.69 278.35 L662.20 282.91 L666.08 280.09 L669.96 282.91 L668.48 278.35 L672.36 275.53 L667.57 275.53Z M666.29 271.91 L664.80 276.47 L660.01 276.47 L663.89 279.29 L662.41 283.85 L666.29 281.03 L670.17 283.85 L668.68 279.29 L672.56 276.47 L667.77 276.47Z M666.49 272.46 L665.01 277.02 L660.21 277.02 L664.09 279.84 L662.61 284.40 L666.49 281.58 L670.37 284.40 L668.88 279.84 L672.76 277.02 L667.97 277.02Z M666.69 272.49 L665.21 277.05 L660.41 277.05 L664.29 279.87 L662.81 284.43 L666.69 281.61 L670.57 284.43 L669.09 279.87 L672.96 277.05 L668.17 277.05Z M666.89 272.30 L665.41 276.86 L660.61 276.86 L664.49 279.68 L663.01 284.24 L666.89 281.42 L670.77 284.24 L669.29 279.68 L673.16 276.86 L668.37 276.86Z M667.09 272.27 L665.60 276.83 L660.81 276.83 L664.69 279.65 L663.21 284.21 L667.09 281.39 L670.97 284.21 L669.48 279.65 L673.36 276.83 L668.57 276.83Z M667.28 272.54 L665.80 277.10 L661.01 277.10 L664.89 279.92 L663.41 284.48 L667.28 281.66 L671.16 284.48 L669.68 279.92 L673.56 277.10 L668.77 277.10Z M667.48 272.90 L666.00 277.47 L661.21 277.47 L665.08 280.28 L663.60 284.84 L667.48 282.03 L671.36 284.84 L669.88 280.28 L673.76 277.47 L668.96 277.47Z M667.68 273.03 L666.20 277.59 L661.40 277.59 L665.28 280.41 L663.80 284.97 L667.68 282.15 L671.56 284.97 L670.08 280.41 L673.96 277.59 L669.16 277.59Z M667.87 272.84 L666.39 277.40 L661.60 277.40 L665.48 280.21 L663.99 284.78 L667.87 281.96 L671.75 284.78 L670.27 280.21 L674.15 277.40 L669.36 277.40Z M668.07 272.59 L666.59 277.15 L661.79 277.15 L665.67 279.97 L664.19 284.53 L668.07 281.71 L671.95 284.53 L670.47 279.97 L674.35 277.15 L669.55 277.15Z M668.26 272.70 L666.78 277.26 L661.99 277.26 L665.87 280.08 L664.38 284.64 L668.26 281.82 L672.14 284.64 L670.66 280.08 L674.54 277.26 L669.75 277.26Z M668.46 273.36 L666.98 277.92 L662.18 277.92 L666.06 280.74 L664.58 285.30 L668.46 282.48 L672.34 285.30 L670.85 280.74 L674.73 277.92 L669.94 277.92Z M668.65 274.39 L667.17 278.95 L662.37 278.95 L666.25 281.77 L664.77 286.33 L668.65 283.51 L672.53 286.33 L671.05 281.77 L674.93 278.95 L670.13 278.95Z M668.84 275.38 L667.36 279.94 L662.56 279.94 L666.44 282.76 L664.96 287.32 L668.84 284.50 L672.72 287.32 L671.24 282.76 L675.12 279.94 L670.32 279.94Z M669.03 276.03 L667.55 280.59 L662.76 280.59 L666.63 283.40 L665.15 287.96 L669.03 285.15 L672.91 287.96 L671.43 283.40 L675.31 280.59 L670.51 280.59Z M669.22 276.30 L667.74 280.86 L662.95 280.86 L666.83 283.68 L665.34 288.24 L669.22 285.42 L673.10 288.24 L671.62 283.68 L675.50 280.86 L670.70 280.86Z M669.41 276.55 L667.93 281.11 L663.14 281.11 L667.01 283.93 L665.53 288.49 L669.41 285.67 L673.29 288.49 L671.81 283.93 L675.69 281.11 L670.89 281.11Z M669.60 277.04 L668.12 281.60 L663.32 281.60 L667.20 284.42 L665.72 288.98 L669.60 286.16 L673.48 288.98 L672.00 284.42 L675.88 281.60 L671.08 281.60Z M669.79 277.76 L668.31 282.32 L663.51 282.32 L667.39 285.14 L665.91 289.70 L669.79 286.88 L673.67 289.70 L672.19 285.14 L676.07 282.32 L671.27 282.32Z M669.98 278.43 L668.50 282.99 L663.70 282.99 L667.58 285.81 L666.10 290.37 L669.98 287.55 L673.86 290.37 L672.37 285.81 L676.25 282.99 L671.46 282.99Z M670.16 278.77 L668.68 283.33 L663.89 283.33 L667.77 286.14 L666.28 290.70 L670.16 287.89 L674.04 290.70 L672.56 286.14 L676.44 283.33 L671.65 283.33Z M670.35 278.72 L668.87 283.29 L664.07 283.29 L667.95 286.10 L666.47 290.66 L670.35 287.85 L674.23 290.66 L672.75 286.10 L676.63 283.29 L671.83 283.29Z M670.54 278.57 L669.05 283.13 L664.26 283.13 L668.14 285.95 L666.66 290.51 L670.54 287.69 L674.41 290.51 L672.93 285.95 L676.81 283.13 L672.02 283.13Z M670.72 278.66 L669.24 283.22 L664.44 283.22 L668.32 286.04 L666.84 290.60 L670.72 287.78 L674.60 290.60 L673.12 286.04 L677.00 283.22 L672.20 283.22Z M670.90 279.21 L669.42 283.77 L664.63 283.77 L668.51 286.58 L667.02 291.15 L670.90 288.33 L674.78 291.15 L673.30 286.58 L677.18 283.77 L672.39 283.77Z M671.09 280.08 L669.60 284.64 L664.81 284.64 L668.69 287.46 L667.21 292.02 L671.09 289.21 L674.97 292.02 L673.48 287.46 L677.36 284.64 L672.57 284.64Z M671.27 280.97 L669.79 285.53 L664.99 285.53 L668.87 288.35 L667.39 292.91 L671.27 290.09 L675.15 292.91 L673.67 288.35 L677.55 285.53 L672.75 285.53Z M671.45 281.59 L669.97 286.15 L665.17 286.15 L669.05 288.97 L667.57 293.53 L671.45 290.71 L675.33 293.53 L673.85 288.97 L677.73 286.15 L672.93 286.15Z M671.63 281.91 L670.15 286.47 L665.36 286.47 L669.23 289.29 L667.75 293.85 L671.63 291.03 L675.51 293.85 L674.03 289.29 L677.91 286.47 L673.11 286.47Z M671.81 282.13 L670.33 286.69 L665.54 286.69 L669.42 289.51 L667.93 294.07 L671.81 291.25 L675.69 294.07 L674.21 289.51 L678.09 286.69 L673.29 286.69Z M671.99 282.51 L670.51 287.07 L665.72 287.07 L669.59 289.89 L668.11 294.45 L671.99 291.63 L675.87 294.45 L674.39 289.89 L678.27 287.07 L673.47 287.07Z M672.17 283.11 L670.69 287.67 L665.89 287.67 L669.77 290.49 L668.29 295.05 L672.17 292.24 L676.05 295.05 L674.57 290.49 L678.45 287.67 L673.65 287.67Z M672.35 283.76 L670.87 288.32 L666.07 288.32 L669.95 291.14 L668.47 295.70 L672.35 292.88 L676.23 295.70 L674.75 291.14 L678.63 288.32 L673.83 288.32Z M672.53 284.14 L671.05 288.70 L666.25 288.70 L670.13 291.52 L668.65 296.08 L672.53 293.26 L676.41 296.08 L674.93 291.52 L678.81 288.70 L674.01 288.70Z M672.71 284.09 L671.22 288.65 L666.43 288.65 L670.31 291.47 L668.83 296.03 L672.71 293.21 L676.58 296.03 L675.10 291.47 L678.98 288.65 L674.19 288.65Z M672.88 283.68 L671.40 288.24 L666.60 288.24 L670.48 291.06 L669.00 295.62 L672.88 292.81 L676.76 295.62 L675.28 291.06 L679.16 288.24 L674.36 288.24Z M673.06 283.22 L671.58 287.78 L666.78 287.78 L670.66 290.60 L669.18 295.16 L673.06 292.34 L676.94 295.16 L675.46 290.60 L679.33 287.78 L674.54 287.78Z M673.23 283.01 L671.75 287.57 L666.96 287.57 L670.84 290.39 L669.35 294.95 L673.23 292.13 L677.11 294.95 L675.63 290.39 L679.51 287.57 L674.71 287.57Z M673.41 283.18 L671.93 287.74 L667.13 287.74 L671.01 290.55 L669.53 295.11 L673.41 292.30 L677.29 295.11 L675.81 290.55 L679.68 287.74 L674.89 287.74Z M673.58 283.58 L672.10 288.15 L667.30 288.15 L671.18 290.96 L669.70 295.52 L673.58 292.71 L677.46 295.52 L675.98 290.96 L679.86 288.15 L675.06 288.15Z M673.76 283.98 L672.27 288.54 L667.48 288.54 L671.36 291.36 L669.88 295.92 L673.76 293.10 L677.63 295.92 L676.15 291.36 L680.03 288.54 L675.24 288.54Z M673.93 284.17 L672.45 288.73 L667.65 288.73 L671.53 291.55 L670.05 296.11 L673.93 293.29 L677.81 296.11 L676.33 291.55 L680.20 288.73 L675.41 288.73Z M674.10 284.17 L672.62 288.73 L667.82 288.73 L671.70 291.55 L670.22 296.11 L674.10 293.29 L677.98 296.11 L676.50 291.55 L680.38 288.73 L675.58 288.73Z M674.27 284.19 L672.79 288.75 L667.99 288.75 L671.87 291.57 L670.39 296.13 L674.27 293.32 L678.15 296.13 L676.67 291.57 L680.55 288.75 L675.75 288.75Z M674.44 284.45 L672.96 289.01 L668.17 289.01 L672.05 291.83 L670.56 296.39 L674.44 293.57 L678.32 296.39 L676.84 291.83 L680.72 289.01 L675.92 289.01Z M674.61 284.73 L673.13 289.29 L668.34 289.29 L672.22 292.11 L670.73 296.67 L674.61 293.85 L678.49 296.67 L677.01 292.11 L680.89 289.29 L676.09 289.29Z M674.78 285.15 L673.30 289.71 L668.51 289.71 L672.39 292.53 L670.90 297.09 L674.78 294.27 L678.66 297.09 L677.18 292.53 L681.06 289.71 L676.26 289.71Z M674.95 285.45 L673.47 290.01 L668.67 290.01 L672.55 292.82 L671.07 297.39 L674.95 294.57 L678.83 297.39 L677.35 292.82 L681.23 290.01 L676.43 290.01Z M675.12 285.40 L673.64 289.96 L668.84 289.96 L672.72 292.77 L671.24 297.34 L675.12 294.52 L679.00 297.34 L677.52 292.77 L681.40 289.96 L676.60 289.96Z M675.29 284.99 L673.81 289.55 L669.01 289.55 L672.89 292.37 L671.41 296.93 L675.29 294.11 L679.17 296.93 L677.69 292.37 L681.57 289.55 L676.77 289.55Z M675.46 284.43 L673.97 288.99 L669.18 288.99 L673.06 291.81 L671.58 296.37 L675.46 293.55 L679.34 296.37 L677.85 291.81 L681.73 288.99 L676.94 288.99Z M675.62 283.99 L674.14 288.55 L669.35 288.55 L673.23 291.37 L671.74 295.93 L675.62 293.11 L679.50 295.93 L678.02 291.37 L681.90 288.55 L677.10 288.55Z M675.79 283.85 L674.31 288.41 L669.51 288.41 L673.39 291.23 L671.91 295.79 L675.79 292.97 L679.67 295.79 L678.19 291.23 L682.07 288.41 L677.27 288.41Z M675.95 283.99 L674.47 288.56 L669.68 288.56 L673.56 291.37 L672.08 295.93 L675.95 293.12 L679.83 295.93 L678.35 291.37 L682.23 288.56 L677.44 288.56Z M676.12 285.40 L674.64 289.96 L669.84 289.96 L673.72 292.78 L672.24 297.34 L676.12 294.52 L680.00 297.34 L678.52 292.78 L682.40 289.96 L677.60 289.96Z M676.28 285.40 L674.80 289.96 L670.01 289.96 L673.89 292.78 L672.41 297.34 L676.28 294.52 L680.16 297.34 L678.68 292.78 L682.56 289.96 L677.77 289.96Z M676.45 285.40 L674.97 289.96 L670.17 289.96 L674.05 292.78 L672.57 297.34 L676.45 294.52 L680.33 297.34 L678.85 292.78 L682.73 289.96 L677.93 289.96Z M676.61 285.40 L675.13 289.96 L670.34 289.96 L674.21 292.78 L672.73 297.34 L676.61 294.52 L680.49 297.34 L679.01 292.78 L682.89 289.96 L678.09 289.96Z M676.78 285.40 L675.29 289.96 L670.50 289.96 L674.38 292.78 L672.90 297.34 L676.78 294.52 L680.65 297.34 L679.17 292.78 L683.05 289.96 L678.26 289.96Z M676.94 285.40 L675.46 289.96 L670.66 289.96 L674.54 292.78 L673.06 297.34 L676.94 294.52 L680.82 297.34 L679.34 292.78 L683.21 289.96 L678.42 289.96Z M677.10 285.40 L675.62 289.96 L670.82 289.96 L674.70 292.78 L673.22 297.34 L677.10 294.52 L680.98 297.34 L679.50 292.78 L683.38 289.96 L678.58 289.96Z M677.26 285.40 L675.78 289.96 L670.98 289.96 L674.86 292.78 L673.38 297.34 L677.26 294.52 L681.14 297.34 L679.66 292.78 L683.54 289.96 L678.74 289.96Z M677.42 285.40 L675.94 289.96 L671.14 289.96 L675.02 292.78 L673.54 297.34 L677.42 294.52 L681.30 297.34 L679.82 292.78 L683.70 289.96 L678.90 289.96Z M677.58 285.40 L676.10 289.96 L671.30 289.96 L675.18 292.78 L673.70 297.34 L677.58 294.52 L681.46 297.34 L679.98 292.78 L683.86 289.96 L679.06 289.96Z M677.74 285.40 L676.26 289.96 L671.46 289.96 L675.34 292.78 L673.86 297.34 L677.74 294.52 L681.62 297.34 L680.14 292.78 L684.02 289.96 L679.22 289.96Z M677.90 285.40 L676.42 289.96 L671.62 289.96 L675.50 292.78 L674.02 297.34 L677.90 294.52 L681.78 297.34 L680.30 292.78 L684.18 289.96 L679.38 289.96Z M678.06 285.40 L676.58 289.96 L671.78 289.96 L675.66 292.78 L674.18 297.34 L678.06 294.52 L681.94 297.34 L680.46 292.78 L684.34 289.96 L679.54 289.96Z M678.22 285.40 L676.74 289.96 L671.94 289.96 L675.82 292.78 L674.34 297.34 L678.22 294.52 L682.10 297.34 L680.62 292.78 L684.49 289.96 L679.70 289.96Z M678.38 285.40 L676.89 289.96 L672.10 289.96 L675.98 292.78 L674.50 297.34 L678.38 294.52 L682.25 297.34 L680.77 292.78 L684.65 289.96 L679.86 289.96Z M678.53 285.40 L677.05 289.96 L672.26 289.96 L676.13 292.78 L674.65 297.34 L678.53 294.52 L682.41 297.34 L680.93 292.78 L684.81 289.96 L680.01 289.96Z M678.69 285.40 L677.21 289.96 L672.41 289.96 L676.29 292.78 L674.81 297.34 L678.69 294.52 L682.57 297.34 L681.09 292.78 L684.97 289.96 L680.17 289.96Z M678.85 285.40 L677.36 289.96 L672.57 289.96 L676.45 292.78 L674.97 297.34 L678.85 294.52 L682.72 297.34 L681.24 292.78 L685.12 289.96 L680.33 289.96Z M679.00 285.40 L677.52 289.96 L672.72 289.96 L676.60 292.78 L675.12 297.34 L679.00 294.52 L682.88 297.34 L681.40 292.78 L685.28 289.96 L680.48 289.96Z M679.16 285.40 L677.67 289.96 L672.88 289.96 L676.76 292.78 L675.28 297.34 L679.16 294.52 L683.04 297.34 L681.55 292.78 L685.43 289.96 L680.64 289.96Z M679.31 285.40 L677.83 289.96 L673.03 289.96 L676.91 292.78 L675.43 297.34 L679.31 294.52 L683.19 297.34 L681.71 292.78 L685.59 289.96 L680.79 289.96Z M679.46 285.40 L677.98 289.96 L673.19 289.96 L677.07 292.78 L675.59 297.34 L679.46 294.52 L683.34 297.34 L681.86 292.78 L685.74 289.96 L680.95 289.96Z M679.62 285.40 L678.14 289.96 L673.34 289.96 L677.22 292.78 L675.74 297.34 L679.62 294.52 L683.50 297.34 L682.02 292.78 L685.90 289.96 L681.10 289.96Z M679.77 285.40 L678.29 289.96 L673.49 289.96 L677.37 292.78 L675.89 297.34 L679.77 294.52 L683.65 297.34 L682.17 292.78 L686.05 289.96 L681.25 289.96Z M679.92 285.40 L678.44 289.96 L673.65 289.96 L677.53 292.78 L676.05 297.34 L679.92 294.52 L683.80 297.34 L682.32 292.78 L686.20 289.96 L681.41 289.96Z M680.08 285.40 L678.60 289.96 L673.80 289.96 L677.68 292.78 L676.20 297.34 L680.08 294.52 L683.96 297.34 L682.47 292.78 L686.35 289.96 L681.56 289.96Z M680.23 285.40 L678.75 289.96 L673.95 289.96 L677.83 292.78 L676.35 297.34 L680.23 294.52 L684.11 297.34 L682.63 292.78 L686.51 289.96 L681.71 289.96Z M680.38 285.40 L678.90 289.96 L674.10 289.96 L677.98 292.78 L676.50 297.34 L680.38 294.52 L684.26 297.34 L682.78 292.78 L686.66 289.96 L681.86 289.96Z M680.53 285.40 L679.05 289.96 L674.25 289.96 L678.13 292.78 L676.65 297.34 L680.53 294.52 L684.41 297.34 L682.93 292.78 L686.81 289.96 L682.01 289.96Z M680.68 285.40 L679.20 289.96 L674.40 289.96 L678.28 292.78 L676.80 297.34 L680.68 294.52 L684.56 297.34 L683.08 292.78 L686.96 289.96 L682.16 289.96Z M680.83 285.40 L679.35 289.96 L674.55 289.96 L678.43 292.78 L676.95 297.34 L680.83 294.52 L684.71 297.34 L683.23 292.78 L687.11 289.96 L682.31 289.96Z M680.98 285.40 L679.50 289.96 L674.70 289.96 L678.58 292.78 L677.10 297.34 L680.98 294.52 L684.86 297.34 L683.38 292.78 L687.26 289.96 L682.46 289.96Z M681.13 285.40 L679.65 289.96 L674.85 289.96 L678.73 292.78 L677.25 297.34 L681.13 294.52 L685.01 297.34 L683.53 292.78 L687.41 289.96 L682.61 289.96Z M681.28 285.40 L679.80 289.96 L675.00 289.96 L678.88 292.78 L677.40 297.34 L681.28 294.52 L685.16 297.34 L683.68 292.78 L687.55 289.96 L682.76 289.96Z M681.43 285.40 L679.94 289.96 L675.15 289.96 L679.03 292.78 L677.55 297.34 L681.43 294.52 L685.31 297.34 L683.82 292.78 L687.70 289.96 L682.91 289.96Z M681.57 285.40 L680.09 289.96 L675.30 289.96 L679.18 292.78 L677.69 297.34 L681.57 294.52 L685.45 297.34 L683.97 292.78 L687.85 289.96 L683.06 289.96Z M681.72 285.40 L680.24 289.96 L675.44 289.96 L679.32 292.78 L677.84 297.34 L681.72 294.52 L685.60 297.34 L684.12 292.78 L688.00 289.96 L683.20 289.96Z M681.87 285.40 L680.39 289.96 L675.59 289.96 L679.47 292.78 L677.99 297.34 L681.87 294.52 L685.75 297.34 L684.27 292.78 L688.14 289.96 L683.35 289.96Z M682.01 285.40 L680.53 289.96 L675.74 289.96 L679.62 292.78 L678.13 297.34 L682.01 294.52 L685.89 297.34 L684.41 292.78 L688.29 289.96 L683.50 289.96Z M682.16 285.40 L680.68 289.96 L675.88 289.96 L679.76 292.78 L678.28 297.34 L682.16 294.52 L686.04 297.34 L684.56 292.78 L688.44 289.96 L683.64 289.96Z M682.31 285.40 L680.82 289.96 L676.03 289.96 L679.91 292.78 L678.43 297.34 L682.31 294.52 L686.18 297.34 L684.70 292.78 L688.58 289.96 L683.79 289.96Z M682.45 285.40 L680.97 289.96 L676.17 289.96 L680.05 292.78 L678.57 297.34 L682.45 294.52 L686.33 297.34 L684.85 292.78 L688.73 289.96 L683.93 289.96Z M682.59 285.40 L681.11 289.96 L676.32 289.96 L680.20 292.78 L678.72 297.34 L682.59 294.52 L686.47 297.34 L684.99 292.78 L688.87 289.96 L684.08 289.96Z M682.74 285.40 L681.26 289.96 L676.46 289.96 L680.34 292.78 L678.86 297.34 L682.74 294.52 L686.62 297.34 L685.14 292.78 L689.02 289.96 L684.22 289.96Z M682.88 285.40 L681.40 289.96 L676.61 289.96 L680.48 292.78 L679.00 297.34 L682.88 294.52 L686.76 297.34 L685.28 292.78 L689.16 289.96 L684.36 289.96Z M683.03 285.40 L681.54 289.96 L676.75 289.96 L680.63 292.78 L679.15 297.34 L683.03 294.52 L686.91 297.34 L685.42 292.78 L689.30 289.96 L684.51 289.96Z M683.17 285.40 L681.69 289.96 L676.89 289.96 L680.77 292.78 L679.29 297.34 L683.17 294.52 L687.05 297.34 L685.57 292.78 L689.45 289.96 L684.65 289.96Z M683.31 285.40 L681.83 289.96 L677.03 289.96 L680.91 292.78 L679.43 297.34 L683.31 294.52 L687.19 297.34 L685.71 292.78 L689.59 289.96 L684.79 289.96Z M683.45 285.40 L681.97 289.96 L677.18 289.96 L681.06 292.78 L679.57 297.34 L683.45 294.52 L687.33 297.34 L685.85 292.78 L689.73 289.96 L684.93 289.96Z M683.59 285.40 L682.11 289.96 L677.32 289.96 L681.20 292.78 L679.72 297.34 L683.59 294.52 L687.47 297.34 L685.99 292.78 L689.87 289.96 L685.08 289.96Z M683.74 285.40 L682.25 289.96 L677.46 289.96 L681.34 292.78 L679.86 297.34 L683.74 294.52 L687.62 297.34 L686.13 292.78 L690.01 289.96 L685.22 289.96Z M683.88 285.40 L682.39 289.96 L677.60 289.96 L681.48 292.78 L680.00 297.34 L683.88 294.52 L687.76 297.34 L686.27 292.78 L690.15 289.96 L685.36 289.96Z M684.02 285.40 L682.54 289.96 L677.74 289.96 L681.62 292.78 L680.14 297.34 L684.02 294.52 L687.90 297.34 L686.41 292.78 L690.29 289.96 L685.50 289.96Z M684.16 285.40 L682.68 289.96 L677.88 289.96 L681.76 292.78 L680.28 297.34 L684.16 294.52 L688.04 297.34 L686.55 292.78 L690.43 289.96 L685.64 289.96Z M684.30 285.40 L682.81 289.96 L678.02 289.96 L681.90 292.78 L680.42 297.34 L684.30 294.52 L688.18 297.34 L686.69 292.78 L690.57 289.96 L685.78 289.96Z M684.44 285.40 L682.95 289.96 L678.16 289.96 L682.04 292.78 L680.56 297.34 L684.44 294.52 L688.32 297.34 L686.83 292.78 L690.71 289.96 L685.92 289.96Z M684.57 285.40 L683.09 289.96 L678.30 289.96 L682.18 292.78 L680.70 297.34 L684.57 294.52 L688.45 297.34 L686.97 292.78 L690.85 289.96 L686.06 289.96Z M684.71 285.40 L683.23 289.96 L678.44 289.96 L682.32 292.78 L680.83 297.34 L684.71 294.52 L688.59 297.34 L687.11 292.78 L690.99 289.96 L686.19 289.96Z M684.85 285.40 L683.37 289.96 L678.57 289.96 L682.45 292.78 L680.97 297.34 L684.85 294.52 L688.73 297.34 L687.25 292.78 L691.13 289.96 L686.33 289.96Z M684.99 285.40 L683.51 289.96 L678.71 289.96 L682.59 292.78 L681.11 297.34 L684.99 294.52 L688.87 297.34 L687.39 292.78 L691.27 289.96 L686.47 289.96Z M685.13 285.40 L683.64 289.96 L678.85 289.96 L682.73 292.78 L681.25 297.34 L685.13 294.52 L689.00 297.34 L687.52 292.78 L691.40 289.96 L686.61 289.96Z M685.26 285.40 L683.78 289.96 L678.99 289.96 L682.86 292.78 L681.38 297.34 L685.26 294.52 L689.14 297.34 L687.66 292.78 L691.54 289.96 L686.74 289.96Z M685.40 285.40 L683.92 289.96 L679.12 289.96 L683.00 292.78 L681.52 297.34 L685.40 294.52 L689.28 297.34 L687.80 292.78 L691.68 289.96 L686.88 289.96Z M685.53 285.40 L684.05 289.96 L679.26 289.96 L683.14 292.78 L681.66 297.34 L685.53 294.52 L689.41 297.34 L687.93 292.78 L691.81 289.96 L687.02 289.96Z M685.67 285.40 L684.19 289.96 L679.39 289.96 L683.27 292.78 L681.79 297.34 L685.67 294.52 L689.55 297.34 L688.07 292.78 L691.95 289.96 L687.15 289.96Z M685.81 285.40 L684.32 289.96 L679.53 289.96 L683.41 292.78 L681.93 297.34 L685.81 294.52 L689.69 297.34 L688.20 292.78 L692.08 289.96 L687.29 289.96Z M685.94 285.40 L684.46 289.96 L679.66 289.96 L683.54 292.78 L682.06 297.34 L685.94 294.52 L689.82 297.34 L688.34 292.78 L692.22 289.96 L687.42 289.96Z M686.08 285.40 L684.59 289.96 L679.80 289.96 L683.68 292.78 L682.20 297.34 L686.08 294.52 L689.95 297.34 L688.47 292.78 L692.35 289.96 L687.56 289.96Z M686.21 285.40 L684.73 289.96 L679.93 289.96 L683.81 292.78 L682.33 297.34 L686.21 294.52 L690.09 297.34 L688.61 292.78 L692.49 289.96 L687.69 289.96Z M686.34 285.40 L684.86 289.96 L680.07 289.96 L683.95 292.78 L682.46 297.34 L686.34 294.52 L690.22 297.34 L688.74 292.78 L692.62 289.96 L687.83 289.96Z M686.48 285.40 L685.00 289.96 L680.20 289.96 L684.08 292.78 L682.60 297.34 L686.48 294.52 L690.36 297.34 L688.87 292.78 L692.75 289.96 L687.96 289.96Z M686.61 285.40 L685.13 289.96 L680.33 289.96 L684.21 292.78 L682.73 297.34 L686.61 294.52 L690.49 297.34 L689.01 292.78 L692.89 289.96 L688.09 289.96Z M686.74 285.40 L685.26 289.96 L680.47 289.96 L684.35 292.78 L682.86 297.34 L686.74 294.52 L690.62 297.34 L689.14 292.78 L693.02 289.96 L688.22 289.96Z M686.87 285.40 L685.39 289.96 L680.60 289.96 L684.48 292.78 L683.00 297.34 L686.87 294.52 L690.75 297.34 L689.27 292.78 L693.15 289.96 L688.36 289.96Z M687.01 285.40 L685.53 289.96 L680.73 289.96 L684.61 292.78 L683.13 297.34 L687.01 294.52 L690.89 297.34 L689.40 292.78 L693.28 289.96 L688.49 289.96Z M687.14 285.40 L685.66 289.96 L680.86 289.96 L684.74 292.78 L683.26 297.34 L687.14 294.52 L691.02 297.34 L689.54 292.78 L693.42 289.96 L688.62 289.96Z M687.27 285.40 L685.79 289.96 L680.99 289.96 L684.87 292.78 L683.39 297.34 L687.27 294.52 L691.15 297.34 L689.67 292.78 L693.55 289.96 L688.75 289.96Z M687.40 285.40 L685.92 289.96 L681.12 289.96 L685.00 292.78 L683.52 297.34 L687.40 294.52 L691.28 297.34 L689.80 292.78 L693.68 289.96 L688.88 289.96Z M687.53 285.40 L686.05 289.96 L681.25 289.96 L685.13 292.78 L683.65 297.34 L687.53 294.52 L691.41 297.34 L689.93 292.78 L693.81 289.96 L689.01 289.96Z M687.66 285.40 L686.18 289.96 L681.38 289.96 L685.26 292.78 L683.78 297.34 L687.66 294.52 L691.54 297.34 L690.06 292.78 L693.94 289.96 L689.14 289.96Z M687.79 285.40 L686.31 289.96 L681.51 289.96 L685.39 292.78 L683.91 297.34 L687.79 294.52 L691.67 297.34 L690.19 292.78 L694.07 289.96 L689.27 289.96Z M687.92 285.40 L686.44 289.96 L681.64 289.96 L685.52 292.78 L684.04 297.34 L687.92 294.52 L691.80 297.34 L690.32 292.78 L694.20 289.96 L689.40 289.96Z M688.05 285.40 L686.57 289.96 L681.77 289.96 L685.65 292.78 L684.17 297.34 L688.05 294.52 L691.93 297.34 L690.45 292.78 L694.33 289.96 L689.53 289.96Z M688.18 285.40 L686.70 289.96 L681.90 289.96 L685.78 292.78 L684.30 297.34 L688.18 294.52 L692.06 297.34 L690.58 292.78 L694.46 289.96 L689.66 289.96Z M688.31 285.40 L686.83 289.96 L682.03 289.96 L685.91 292.78 L684.43 297.34 L688.31 294.52 L692.19 297.34 L690.71 292.78 L694.58 289.96 L689.79 289.96Z M688.44 285.40 L686.95 289.96 L682.16 289.96 L686.04 292.78 L684.56 297.34 L688.44 294.52 L692.32 297.34 L690.83 292.78 L694.71 289.96 L689.92 289.96Z M688.56 285.40 L687.08 289.96 L682.29 289.96 L686.17 292.78 L684.68 297.34 L688.56 294.52 L692.44 297.34 L690.96 292.78 L694.84 289.96 L690.05 289.96Z M688.69 285.40 L687.21 289.96 L682.41 289.96 L686.29 292.78 L684.81 297.34 L688.69 294.52 L692.57 297.34 L691.09 292.78 L694.97 289.96 L690.17 289.96Z M688.82 285.40 L687.34 289.96 L682.54 289.96 L686.42 292.78 L684.94 297.34 L688.82 294.52 L692.70 297.34 L691.22 292.78 L695.10 289.96 L690.30 289.96Z M688.95 285.40 L687.46 289.96 L682.67 289.96 L686.55 292.78 L685.07 297.34 L688.95 294.52 L692.82 297.34 L691.34 292.78 L695.22 289.96 L690.43 289.96Z M689.07 285.40 L687.59 289.96 L682.79 289.96 L686.67 292.78 L685.19 297.34 L689.07 294.52 L692.95 297.34 L691.47 292.78 L695.35 289.96 L690.55 289.96Z M689.20 285.40 L687.72 289.96 L682.92 289.96 L686.80 292.78 L685.32 297.34 L689.20 294.52 L693.08 297.34 L691.60 292.78 L695.47 289.96 L690.68 289.96Z M689.32 285.40 L687.84 289.96 L683.05 289.96 L686.93 292.78 L685.44 297.34 L689.32 294.52 L693.20 297.34 L691.72 292.78 L695.60 289.96 L690.81 289.96Z M689.45 285.40 L687.97 289.96 L683.17 289.96 L687.05 292.78 L685.57 297.34 L689.45 294.52 L693.33 297.34 L691.85 292.78 L695.73 289.96 L690.93 289.96Z M689.57 285.40 L688.09 289.96 L683.30 289.96 L687.18 292.78 L685.69 297.34 L689.57 294.52 L693.45 297.34 L691.97 292.78 L695.85 289.96 L691.06 289.96Z M689.70 285.40 L688.22 289.96 L683.42 289.96 L687.30 292.78 L685.82 297.34 L689.70 294.52 L693.58 297.34 L692.10 292.78 L695.98 289.96 L691.18 289.96Z M689.82 285.40 L688.34 289.96 L683.55 289.96 L687.43 292.78 L685.94 297.34 L689.82 294.52 L693.70 297.34 L692.22 292.78 L696.10 289.96 L691.31 289.96Z M689.95 285.40 L688.47 289.96 L683.67 289.96 L687.55 292.78 L686.07 297.34 L689.95 294.52 L693.83 297.34 L692.35 292.78 L696.23 289.96 L691.43 289.96Z M690.07 285.40 L688.59 289.96 L683.79 289.96 L687.67 292.78 L686.19 297.34 L690.07 294.52 L693.95 297.34 L692.47 292.78 L696.35 289.96 L691.55 289.96Z M690.20 285.40 L688.71 289.96 L683.92 289.96 L687.80 292.78 L686.32 297.34 L690.20 294.52 L694.07 297.34 L692.59 292.78 L696.47 289.96 L691.68 289.96Z M690.32 285.40 L688.84 289.96 L684.04 289.96 L687.92 292.78 L686.44 297.34 L690.32 294.52 L694.20 297.34 L692.72 292.78 L696.60 289.96 L691.80 289.96Z M690.44 285.40 L688.96 289.96 L684.16 289.96 L688.04 292.78 L686.56 297.34 L690.44 294.52 L694.32 297.34 L692.84 292.78 L696.72 289.96 L691.92 289.96Z M690.56 285.40 L689.08 289.96 L684.29 289.96 L688.17 292.78 L686.69 297.34 L690.56 294.52 L694.44 297.34 L692.96 292.78 L696.84 289.96 L692.05 289.96Z M690.69 285.40 L689.21 289.96 L684.41 289.96 L688.29 292.78 L686.81 297.34 L690.69 294.52 L694.57 297.34 L693.08 292.78 L696.96 289.96 L692.17 289.96Z M690.81 285.40 L689.33 289.96 L684.53 289.96 L688.41 292.78 L686.93 297.34 L690.81 294.52 L694.69 297.34 L693.21 292.78 L697.09 289.96 L692.29 289.96Z M690.93 285.40 L689.45 289.96 L684.65 289.96 L688.53 292.78 L687.05 297.34 L690.93 294.52 L694.81 297.34 L693.33 292.78 L697.21 289.96 L692.41 289.96Z" fill="#ff0000" stroke="#ff0000" stroke-width="1.2" stroke-linejoin="round"/></g><rect x="56.5" y="28.5" width="276.0" height="268.5" fill="none" stroke="#000" stroke-width="1.1"/><rect x="418.5" y="31.5" width="272.0" height="264.0" fill="none" stroke="#000" stroke-width="1.1"/><line x1="69.1" y1="297.0" x2="69.1" y2="300.5" stroke="#000" stroke-width="1.1"/><line x1="92.3" y1="297.0" x2="92.3" y2="300.5" stroke="#000" stroke-width="1.1"/><line x1="108.8" y1="297.0" x2="108.8" y2="300.5" stroke="#000" stroke-width="1.1"/><line x1="121.6" y1="297.0" x2="121.6" y2="300.5" stroke="#000" stroke-width="1.1"/><line x1="132.1" y1="297.0" x2="132.1" y2="300.5" stroke="#000" stroke-width="1.1"/><line x1="140.9" y1="297.0" x2="140.9" y2="300.5" stroke="#000" stroke-width="1.1"/><line x1="148.6" y1="297.0" x2="148.6" y2="300.5" stroke="#000" stroke-width="1.1"/><line x1="155.4" y1="297.0" x2="155.4" y2="300.5" stroke="#000" stroke-width="1.1"/><line x1="161.4" y1="297.0" x2="161.4" y2="302.5" stroke="#000" stroke-width="1.1"/><line x1="201.2" y1="297.0" x2="201.2" y2="300.5" stroke="#000" stroke-width="1.1"/><line x1="224.4" y1="297.0" x2="224.4" y2="300.5" stroke="#000" stroke-width="1.1"/><line x1="240.9" y1="297.0" x2="240.9" y2="300.5" stroke="#000" stroke-width="1.1"/><line x1="253.7" y1="297.0" x2="253.7" y2="300.5" stroke="#000" stroke-width="1.1"/><line x1="264.2" y1="297.0" x2="264.2" y2="300.5" stroke="#000" stroke-width="1.1"/><line x1="273.0" y1="297.0" x2="273.0" y2="300.5" stroke="#000" stroke-width="1.1"/><line x1="280.7" y1="297.0" x2="280.7" y2="300.5" stroke="#000" stroke-width="1.1"/><line x1="287.5" y1="297.0" x2="287.5" y2="300.5" stroke="#000" stroke-width="1.1"/><line x1="293.5" y1="297.0" x2="293.5" y2="302.5" stroke="#000" stroke-width="1.1"/><line x1="51.0" y1="28.5" x2="56.5" y2="28.5" stroke="#000" stroke-width="1.1"/><line x1="51.0" y1="83.3" x2="56.5" y2="83.3" stroke="#000" stroke-width="1.1"/><line x1="51.0" y1="138.1" x2="56.5" y2="138.1" stroke="#000" stroke-width="1.1"/><line x1="51.0" y1="193.1" x2="56.5" y2="193.1" stroke="#000" stroke-width="1.1"/><line x1="51.0" y1="248.0" x2="56.5" y2="248.0" stroke="#000" stroke-width="1.1"/><line x1="433.2" y1="295.5" x2="433.2" y2="299.0" stroke="#000" stroke-width="1.1"/><line x1="452.9" y1="295.5" x2="452.9" y2="299.0" stroke="#000" stroke-width="1.1"/><line x1="466.9" y1="295.5" x2="466.9" y2="299.0" stroke="#000" stroke-width="1.1"/><line x1="477.8" y1="295.5" x2="477.8" y2="299.0" stroke="#000" stroke-width="1.1"/><line x1="486.7" y1="295.5" x2="486.7" y2="299.0" stroke="#000" stroke-width="1.1"/><line x1="494.2" y1="295.5" x2="494.2" y2="299.0" stroke="#000" stroke-width="1.1"/><line x1="500.6" y1="295.5" x2="500.6" y2="299.0" stroke="#000" stroke-width="1.1"/><line x1="506.4" y1="295.5" x2="506.4" y2="299.0" stroke="#000" stroke-width="1.1"/><line x1="511.5" y1="295.5" x2="511.5" y2="301.0" stroke="#000" stroke-width="1.1"/><line x1="545.2" y1="295.5" x2="545.2" y2="299.0" stroke="#000" stroke-width="1.1"/><line x1="564.9" y1="295.5" x2="564.9" y2="299.0" stroke="#000" stroke-width="1.1"/><line x1="578.9" y1="295.5" x2="578.9" y2="299.0" stroke="#000" stroke-width="1.1"/><line x1="589.8" y1="295.5" x2="589.8" y2="299.0" stroke="#000" stroke-width="1.1"/><line x1="598.7" y1="295.5" x2="598.7" y2="299.0" stroke="#000" stroke-width="1.1"/><line x1="606.2" y1="295.5" x2="606.2" y2="299.0" stroke="#000" stroke-width="1.1"/><line x1="612.6" y1="295.5" x2="612.6" y2="299.0" stroke="#000" stroke-width="1.1"/><line x1="618.4" y1="295.5" x2="618.4" y2="299.0" stroke="#000" stroke-width="1.1"/><line x1="623.5" y1="295.5" x2="623.5" y2="301.0" stroke="#000" stroke-width="1.1"/><line x1="657.2" y1="295.5" x2="657.2" y2="299.0" stroke="#000" stroke-width="1.1"/><line x1="676.9" y1="295.5" x2="676.9" y2="299.0" stroke="#000" stroke-width="1.1"/><line x1="690.9" y1="295.5" x2="690.9" y2="299.0" stroke="#000" stroke-width="1.1"/><line x1="413.0" y1="41.2" x2="418.5" y2="41.2" stroke="#000" stroke-width="1.1"/><line x1="413.0" y1="94.4" x2="418.5" y2="94.4" stroke="#000" stroke-width="1.1"/><line x1="413.0" y1="147.4" x2="418.5" y2="147.4" stroke="#000" stroke-width="1.1"/><line x1="413.0" y1="200.5" x2="418.5" y2="200.5" stroke="#000" stroke-width="1.1"/><line x1="413.0" y1="253.6" x2="418.5" y2="253.6" stroke="#000" stroke-width="1.1"/><g font-family="Liberation Sans, sans-serif" fill="#000" stroke="#000" stroke-width="0.2"><text x="195.0" y="21.0" font-size="22.0" text-anchor="middle" textLength="46.5" lengthAdjust="spacingAndGlyphs" >Pest</text><text x="554.8" y="24.0" font-size="23.0" text-anchor="middle" textLength="99.5" lengthAdjust="spacingAndGlyphs" >Ackley53</text><text x="47.2" y="35.8" font-size="19.5" text-anchor="end" textLength="23.5" lengthAdjust="spacingAndGlyphs" >17</text><text x="47.2" y="90.6" font-size="19.5" text-anchor="end" textLength="23.5" lengthAdjust="spacingAndGlyphs" >16</text><text x="47.2" y="145.4" font-size="19.5" text-anchor="end" textLength="23.5" lengthAdjust="spacingAndGlyphs" >15</text><text x="47.2" y="200.4" font-size="19.5" text-anchor="end" textLength="23.5" lengthAdjust="spacingAndGlyphs" >14</text><text x="47.2" y="255.3" font-size="19.5" text-anchor="end" textLength="23.5" lengthAdjust="spacingAndGlyphs" >13</text><text x="409.5" y="48.5" font-size="19.5" text-anchor="end" textLength="28.7" lengthAdjust="spacingAndGlyphs" >2.5</text><text x="409.5" y="101.7" font-size="19.5" text-anchor="end" textLength="28.7" lengthAdjust="spacingAndGlyphs" >2.0</text><text x="409.5" y="154.7" font-size="19.5" text-anchor="end" textLength="28.7" lengthAdjust="spacingAndGlyphs" >1.5</text><text x="409.5" y="207.8" font-size="19.5" text-anchor="end" textLength="28.7" lengthAdjust="spacingAndGlyphs" >1.0</text><text x="409.5" y="260.9" font-size="19.5" text-anchor="end" textLength="28.7" lengthAdjust="spacingAndGlyphs" >0.5</text><text x="145.5" y="320.7" font-size="19.5" text-anchor="start" textLength="22.5" lengthAdjust="spacingAndGlyphs" >10</text><text x="169.0" y="313.5" font-size="13.5" text-anchor="start" >1</text><text x="277.6" y="320.7" font-size="19.5" text-anchor="start" textLength="22.5" lengthAdjust="spacingAndGlyphs" >10</text><text x="301.1" y="313.5" font-size="13.5" text-anchor="start" >2</text><text x="495.6" y="318.7" font-size="19.5" text-anchor="start" textLength="22.5" lengthAdjust="spacingAndGlyphs" >10</text><text x="519.1" y="311.5" font-size="13.5" text-anchor="start" >1</text><text x="607.6" y="318.7" font-size="19.5" text-anchor="start" textLength="22.5" lengthAdjust="spacingAndGlyphs" >10</text><text x="631.1" y="311.5" font-size="13.5" text-anchor="start" >2</text><text x="194.6" y="343.8" font-size="18.0" text-anchor="middle" textLength="178.0" lengthAdjust="spacingAndGlyphs" >Number of batches</text><text x="555.2" y="341.0" font-size="18.0" text-anchor="middle" textLength="175.0" lengthAdjust="spacingAndGlyphs" >Number of batches</text><text transform="translate(12.6 163.5) rotate(-90)" font-size="17" text-anchor="middle" textLength="79" lengthAdjust="spacingAndGlyphs">min(<tspan font-style="italic">f</tspan>(<tspan font-style="italic">x</tspan>))</text><text transform="translate(370.5 163.3) rotate(-90)" font-size="17" text-anchor="middle" textLength="79" lengthAdjust="spacingAndGlyphs">min(<tspan font-style="italic">f</tspan>(<tspan font-style="italic">x</tspan>))</text><text x="139.0" y="401.6" font-size="22.0" text-anchor="start" textLength="184.0" lengthAdjust="spacingAndGlyphs" >CASMOPOLITAN-1</text><text x="139.0" y="431.9" font-size="22.0" text-anchor="start" textLength="184.0" lengthAdjust="spacingAndGlyphs" >CASMOPOLITAN-2</text><text x="425.6" y="401.6" font-size="22.0" text-anchor="start" textLength="185.0" lengthAdjust="spacingAndGlyphs" >CASMOPOLITAN-4</text><text x="425.6" y="431.9" font-size="22.0" text-anchor="start" textLength="185.0" lengthAdjust="spacingAndGlyphs" >CASMOPOLITAN-8</text></g><path d="M79.3 395.0 L123.0 395.0" fill="none" stroke="#ff0000" stroke-width="1.5" stroke-linejoin="round"/><path d="M101.00 388.60 L99.43 393.44 L94.34 393.44 L98.46 396.43 L96.89 401.26 L101.00 398.27 L105.11 401.26 L103.54 396.43 L107.66 393.44 L102.57 393.44Z" fill="#ff0000" stroke="#ff0000" stroke-width="1.4" stroke-linejoin="round"/><path d="M79.3 425.3 L123.0 425.3" fill="none" stroke="#b9952f" stroke-width="1.5" stroke-linejoin="round"/><path d="M101.00 432.30 L94.00 418.30 L108.00 418.30Z" fill="#b9952f" stroke="#b9952f" stroke-width="1" stroke-linejoin="miter"/><path d="M366.6 395.0 L409.8 395.0" fill="none" stroke="#4fb034" stroke-width="1.5" stroke-linejoin="round"/><path d="M388.00 388.00 L381.00 402.00 L395.00 402.00Z" fill="#4fb034" stroke="#4fb034" stroke-width="1" stroke-linejoin="miter"/><path d="M366.6 425.3 L409.8 425.3" fill="none" stroke="#35aba2" stroke-width="1.5" stroke-linejoin="round"/><path d="M385.46 418.05 L390.54 418.05 L390.54 422.76 L395.25 422.76 L395.25 427.84 L390.54 427.84 L390.54 432.55 L385.46 432.55 L385.46 427.84 L380.75 427.84 L380.75 422.76 L385.46 422.76Z" fill="#35aba2"/></svg></body></html>
